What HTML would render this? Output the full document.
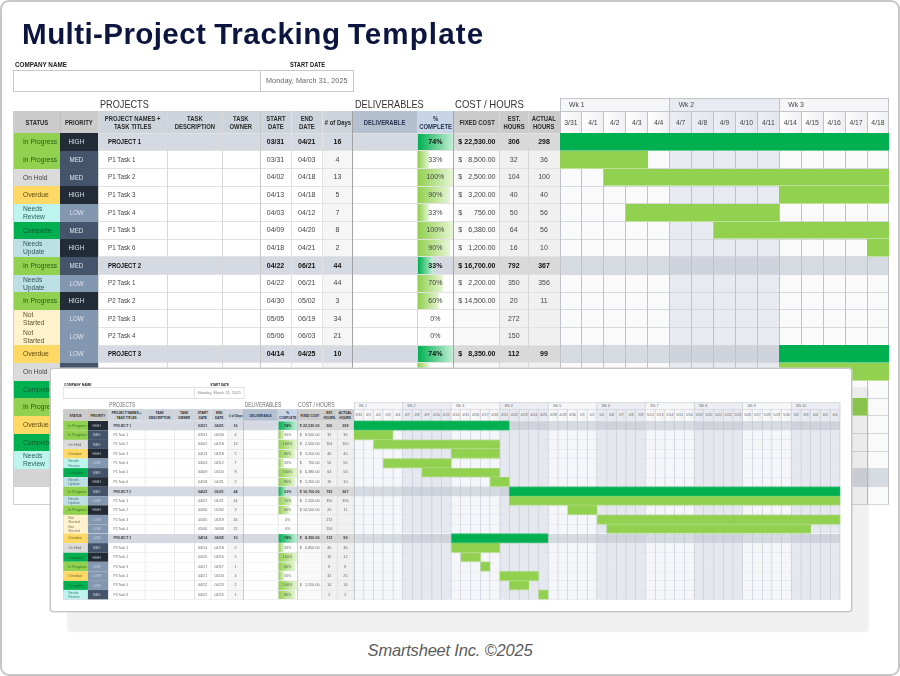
<!DOCTYPE html>
<html><head><meta charset="utf-8"><title>Multi-Project Tracking Template</title>
<style>
*{margin:0;padding:0;}
html,body{width:900px;height:676px;overflow:hidden;background:#fff;}
body{position:relative;font-family:"Liberation Sans", sans-serif;}
.frame{position:absolute;left:0;top:0;width:900px;height:676px;box-sizing:border-box;border:2px solid #c7c7c7;border-radius:9px;overflow:hidden;}
.title{position:absolute;left:21.5px;top:14.3px;font-weight:bold;font-size:29.6px;line-height:40px;color:#0b153f;white-space:nowrap;letter-spacing:0.14px;}
.sheet{position:absolute;left:0;top:0;}
.sheet div{position:absolute;box-sizing:border-box;overflow:hidden;white-space:nowrap;font-size:7px;color:#444;}
.title span{position:absolute;top:0;}
.sheet .lbl{font-weight:bold;font-size:6.3px;line-height:8px;color:#222;overflow:visible;}
.sheet .date{font-size:7.2px;line-height:21px;color:#666;letter-spacing:0.12px;}
.sheet .sec{font-size:11.8px;line-height:14px;color:#333;overflow:visible;transform:scaleX(0.76);transform-origin:0 0;}
.sheet .hd{display:flex;align-items:center;justify-content:center;text-align:center;font-weight:bold;font-size:6.7px;line-height:8.4px;color:#2a2a2a;padding-top:2px;}
.sheet .hd span{transform:scaleX(0.88);}
.sheet .st{display:flex;align-items:center;padding-left:10px;padding-top:0.5px;font-size:6.7px;line-height:8px;}
.sheet .pr{display:flex;align-items:center;justify-content:center;font-size:6.7px;padding-right:4.5px;padding-bottom:0.8px;}
.sheet .pr span{transform:scaleX(0.93);}
.sheet .nm{display:flex;align-items:center;padding-left:9.5px;font-size:6.6px;padding-bottom:1px;}
.sheet .nm span{transform:scaleX(0.95);transform-origin:0 50%;}
.sheet .nm.b span{transform:scaleX(0.9);}
.sheet .ct{display:flex;align-items:center;justify-content:center;font-size:7px;padding-bottom:1px;}
.sheet .cs{display:flex;align-items:center;font-size:7px;padding-bottom:1px;}
.sheet .cs .d{position:absolute;left:4.5px;}
.sheet .cs .v{position:absolute;right:4px;}
.sheet .wk{font-size:6.8px;line-height:13px;padding-left:9px;color:#444;}
.sheet .dy{display:flex;align-items:center;justify-content:center;font-size:6.8px;color:#444;}
.sheet span{display:block;}
.sheet .bar{border-bottom:1px solid rgba(255,255,255,0.4);}
.front{position:absolute;left:50px;top:368px;width:801.5px;height:244px;box-sizing:border-box;border:1px solid #c6c6c6;border-radius:3.5px;background:#fff;box-shadow:0 0 0 0.6px #cfcfcf,17px 19.5px 1.5px rgba(0,0,0,0.058);overflow:hidden;}
.mini{position:absolute;transform-origin:0 0;}
.mini .sec{color:#6c6c6c;}
.mini .nm,.mini .ct,.mini .cs,.mini .dy,.mini .wk,.mini .date,.mini .st span,.mini .pr span{opacity:.82;}
.footer{position:absolute;left:0;width:900px;top:639.2px;text-align:center;font-style:italic;font-size:16.5px;line-height:22px;color:#5c5c5c;letter-spacing:-0.2px;}
.backclip,.front,.title{filter:blur(0.3px);}
.backclip{position:absolute;left:0;top:0;width:889.4px;height:520px;overflow:hidden;}
</style></head><body>
<div class="backclip"><div class="sheet">
<div class="lbl" style="left:15.00px;top:60.60px;width:105.00px;height:8.00px;">COMPANY NAME</div>
<div class="lbl" style="left:289.50px;top:60.60px;width:90.50px;height:8.00px;transform:scaleX(0.9);transform-origin:0 0;">START DATE</div>
<div style="left:13.00px;top:70.00px;width:341.00px;height:22.00px;border:1px solid #c9c9c9;background:#fff;box-sizing:border-box;"></div>
<div style="left:260.00px;top:70.00px;width:1.00px;height:22.00px;background:#c9c9c9;"></div>
<div class="date" style="left:266.00px;top:69.60px;width:87.00px;height:21.00px;">Monday, March 31, 2025</div>
<div class="sec" style="left:99.50px;top:97.30px;width:100.50px;height:13.00px;transform:scaleX(0.775);">PROJECTS</div>
<div class="sec" style="left:355.00px;top:97.30px;width:105.00px;height:13.00px;transform:scaleX(0.775);">DELIVERABLES</div>
<div class="sec" style="left:455.00px;top:97.30px;width:105.00px;height:13.00px;transform:scaleX(0.81);">COST / HOURS</div>
<div class="hd" style="left:13.00px;top:111.00px;width:47.00px;height:22.30px;background:#cbcbcb;"><span>STATUS</span></div>
<div class="hd" style="left:60.00px;top:111.00px;width:38.00px;height:22.30px;background:#cbcbcb;"><span>PRIORITY</span></div>
<div class="hd" style="left:98.00px;top:111.00px;width:69.50px;height:22.30px;background:#ced4dc;"><span>PROJECT NAMES +<br>TASK TITLES</span></div>
<div class="hd" style="left:167.50px;top:111.00px;width:55.00px;height:22.30px;background:#ced4dc;"><span>TASK<br>DESCRIPTION</span></div>
<div class="hd" style="left:222.50px;top:111.00px;width:37.50px;height:22.30px;background:#ced4dc;"><span>TASK<br>OWNER</span></div>
<div class="hd" style="left:260.00px;top:111.00px;width:31.00px;height:22.30px;background:#ced4dc;"><span>START<br>DATE</span></div>
<div class="hd" style="left:291.00px;top:111.00px;width:31.50px;height:22.30px;background:#ced4dc;"><span>END<br>DATE</span></div>
<div class="hd" style="left:322.50px;top:111.00px;width:30.00px;height:22.30px;background:#ced4dc;"><span># of Days</span></div>
<div class="hd" style="left:352.50px;top:111.00px;width:64.50px;height:22.30px;background:#b4bfd0;color:#25344f;"><span>DELIVERABLE</span></div>
<div class="hd" style="left:417.00px;top:111.00px;width:36.75px;height:22.30px;background:#c8d5e7;color:#25344f;"><span>%<br>COMPLETE</span></div>
<div class="hd" style="left:453.75px;top:111.00px;width:45.75px;height:22.30px;background:#cbcbcb;"><span>FIXED COST</span></div>
<div class="hd" style="left:499.50px;top:111.00px;width:28.50px;height:22.30px;background:#cbcbcb;"><span>EST.<br>HOURS</span></div>
<div class="hd" style="left:528.00px;top:111.00px;width:32.00px;height:22.30px;background:#cbcbcb;"><span>ACTUAL<br>HOURS</span></div>
<div class="st" style="left:13.00px;top:133.30px;width:47.00px;height:17.67px;background:#92d050;color:#1f5f12;"><span>In Progress</span></div>
<div class="pr" style="left:60.00px;top:133.30px;width:38.00px;height:17.67px;background:#222b36;color:#dfe3ea;"><span>HIGH</span></div>
<div style="left:98.00px;top:133.30px;width:319.00px;height:17.67px;background:#d5dae2;"></div>
<div class="nm b" style="left:98.00px;top:133.30px;width:69.50px;height:17.67px;font-weight:bold;color:#111;"><span>PROJECT 1</span></div>
<div class="ct" style="left:260.00px;top:133.30px;width:31.00px;height:17.67px;font-weight:bold;color:#111;"><span>03/31</span></div>
<div class="ct" style="left:291.00px;top:133.30px;width:31.50px;height:17.67px;font-weight:bold;color:#111;"><span>04/21</span></div>
<div class="ct" style="left:322.50px;top:133.30px;width:30.00px;height:17.67px;font-weight:bold;color:#111;"><span>16</span></div>
<div style="left:417.00px;top:133.30px;width:36.75px;height:17.67px;background:#d5dae2;"></div>
<div style="left:417.50px;top:133.80px;width:35.75px;height:16.67px;background:linear-gradient(90deg,#00b050,#c4eed6);"></div>
<div class="ct" style="left:417.00px;top:133.30px;width:36.75px;height:17.67px;font-weight:bold;color:#111;"><span>74%</span></div>
<div style="left:453.75px;top:133.30px;width:45.75px;height:17.67px;background:#d9d9d9;"></div>
<div style="left:499.50px;top:133.30px;width:60.50px;height:17.67px;background:#d9d9d9;"></div>
<div class="cs" style="left:453.75px;top:133.30px;width:45.75px;height:17.67px;font-weight:bold;color:#111;"><span class="d">$</span><span class="v">22,530.00</span></div>
<div class="ct" style="left:499.50px;top:133.30px;width:28.50px;height:17.67px;font-weight:bold;color:#111;"><span>306</span></div>
<div class="ct" style="left:528.00px;top:133.30px;width:32.00px;height:17.67px;font-weight:bold;color:#111;"><span>298</span></div>
<div style="left:560.00px;top:133.30px;width:109.65px;height:17.67px;background:#d6dae1;"></div>
<div style="left:669.65px;top:133.30px;width:109.65px;height:17.67px;background:#cfd3dc;"></div>
<div style="left:779.30px;top:133.30px;width:109.65px;height:17.67px;background:#d6dae1;"></div>
<div class="st" style="left:13.00px;top:150.97px;width:47.00px;height:17.67px;background:#92d050;color:#1f5f12;"><span>In Progress</span></div>
<div class="pr" style="left:60.00px;top:150.97px;width:38.00px;height:17.67px;background:#44546a;color:#e4e8ef;"><span>MED</span></div>
<div style="left:98.00px;top:150.97px;width:319.00px;height:17.67px;background:#fff;"></div>
<div style="left:322.50px;top:150.97px;width:30.00px;height:17.67px;background:#f6f6f6;"></div>
<div class="nm" style="left:98.00px;top:150.97px;width:69.50px;height:17.67px;"><span>P1 Task 1</span></div>
<div class="ct" style="left:260.00px;top:150.97px;width:31.00px;height:17.67px;"><span>03/31</span></div>
<div class="ct" style="left:291.00px;top:150.97px;width:31.50px;height:17.67px;"><span>04/03</span></div>
<div class="ct" style="left:322.50px;top:150.97px;width:30.00px;height:17.67px;"><span>4</span></div>
<div style="left:417.00px;top:150.97px;width:36.75px;height:17.67px;background:#fff;"></div>
<div style="left:417.50px;top:151.47px;width:11.80px;height:16.67px;background:linear-gradient(90deg,#92d050,#e6f6d6);"></div>
<div class="ct" style="left:417.00px;top:150.97px;width:36.75px;height:17.67px;"><span>33%</span></div>
<div style="left:453.75px;top:150.97px;width:45.75px;height:17.67px;background:#f9f9f9;"></div>
<div style="left:499.50px;top:150.97px;width:60.50px;height:17.67px;background:#f0f0f0;"></div>
<div class="cs" style="left:453.75px;top:150.97px;width:45.75px;height:17.67px;"><span class="d">$</span><span class="v">8,500.00</span></div>
<div class="ct" style="left:499.50px;top:150.97px;width:28.50px;height:17.67px;"><span>32</span></div>
<div class="ct" style="left:528.00px;top:150.97px;width:32.00px;height:17.67px;"><span>36</span></div>
<div style="left:560.00px;top:150.97px;width:109.65px;height:17.67px;background:#fafafa;"></div>
<div style="left:669.65px;top:150.97px;width:109.65px;height:17.67px;background:#e8eaf2;"></div>
<div style="left:779.30px;top:150.97px;width:109.65px;height:17.67px;background:#fafafa;"></div>
<div class="st" style="left:13.00px;top:168.63px;width:47.00px;height:17.67px;background:#dbdbdb;color:#444;"><span>On Hold</span></div>
<div class="pr" style="left:60.00px;top:168.63px;width:38.00px;height:17.67px;background:#44546a;color:#e4e8ef;"><span>MED</span></div>
<div style="left:98.00px;top:168.63px;width:319.00px;height:17.67px;background:#fff;"></div>
<div style="left:322.50px;top:168.63px;width:30.00px;height:17.67px;background:#f6f6f6;"></div>
<div class="nm" style="left:98.00px;top:168.63px;width:69.50px;height:17.67px;"><span>P1 Task 2</span></div>
<div class="ct" style="left:260.00px;top:168.63px;width:31.00px;height:17.67px;"><span>04/02</span></div>
<div class="ct" style="left:291.00px;top:168.63px;width:31.50px;height:17.67px;"><span>04/18</span></div>
<div class="ct" style="left:322.50px;top:168.63px;width:30.00px;height:17.67px;"><span>13</span></div>
<div style="left:417.00px;top:168.63px;width:36.75px;height:17.67px;background:#fff;"></div>
<div style="left:417.50px;top:169.13px;width:35.75px;height:16.67px;background:linear-gradient(90deg,#92d050,#e6f6d6);"></div>
<div class="ct" style="left:417.00px;top:168.63px;width:36.75px;height:17.67px;"><span>100%</span></div>
<div style="left:453.75px;top:168.63px;width:45.75px;height:17.67px;background:#f9f9f9;"></div>
<div style="left:499.50px;top:168.63px;width:60.50px;height:17.67px;background:#f0f0f0;"></div>
<div class="cs" style="left:453.75px;top:168.63px;width:45.75px;height:17.67px;"><span class="d">$</span><span class="v">2,500.00</span></div>
<div class="ct" style="left:499.50px;top:168.63px;width:28.50px;height:17.67px;"><span>104</span></div>
<div class="ct" style="left:528.00px;top:168.63px;width:32.00px;height:17.67px;"><span>100</span></div>
<div style="left:560.00px;top:168.63px;width:109.65px;height:17.67px;background:#fafafa;"></div>
<div style="left:669.65px;top:168.63px;width:109.65px;height:17.67px;background:#e8eaf2;"></div>
<div style="left:779.30px;top:168.63px;width:109.65px;height:17.67px;background:#fafafa;"></div>
<div class="st" style="left:13.00px;top:186.30px;width:47.00px;height:17.67px;background:#ffd966;color:#5a4a10;"><span>Overdue</span></div>
<div class="pr" style="left:60.00px;top:186.30px;width:38.00px;height:17.67px;background:#222b36;color:#dfe3ea;"><span>HIGH</span></div>
<div style="left:98.00px;top:186.30px;width:319.00px;height:17.67px;background:#fff;"></div>
<div style="left:322.50px;top:186.30px;width:30.00px;height:17.67px;background:#f6f6f6;"></div>
<div class="nm" style="left:98.00px;top:186.30px;width:69.50px;height:17.67px;"><span>P1 Task 3</span></div>
<div class="ct" style="left:260.00px;top:186.30px;width:31.00px;height:17.67px;"><span>04/13</span></div>
<div class="ct" style="left:291.00px;top:186.30px;width:31.50px;height:17.67px;"><span>04/18</span></div>
<div class="ct" style="left:322.50px;top:186.30px;width:30.00px;height:17.67px;"><span>5</span></div>
<div style="left:417.00px;top:186.30px;width:36.75px;height:17.67px;background:#fff;"></div>
<div style="left:417.50px;top:186.80px;width:32.18px;height:16.67px;background:linear-gradient(90deg,#92d050,#e6f6d6);"></div>
<div class="ct" style="left:417.00px;top:186.30px;width:36.75px;height:17.67px;"><span>90%</span></div>
<div style="left:453.75px;top:186.30px;width:45.75px;height:17.67px;background:#f9f9f9;"></div>
<div style="left:499.50px;top:186.30px;width:60.50px;height:17.67px;background:#f0f0f0;"></div>
<div class="cs" style="left:453.75px;top:186.30px;width:45.75px;height:17.67px;"><span class="d">$</span><span class="v">3,200.00</span></div>
<div class="ct" style="left:499.50px;top:186.30px;width:28.50px;height:17.67px;"><span>40</span></div>
<div class="ct" style="left:528.00px;top:186.30px;width:32.00px;height:17.67px;"><span>40</span></div>
<div style="left:560.00px;top:186.30px;width:109.65px;height:17.67px;background:#fafafa;"></div>
<div style="left:669.65px;top:186.30px;width:109.65px;height:17.67px;background:#e8eaf2;"></div>
<div style="left:779.30px;top:186.30px;width:109.65px;height:17.67px;background:#fafafa;"></div>
<div class="st" style="left:13.00px;top:203.97px;width:47.00px;height:17.67px;background:#bdf5ee;color:#2c5f5b;"><span>Needs<br>Review</span></div>
<div class="pr" style="left:60.00px;top:203.97px;width:38.00px;height:17.67px;background:#8497b0;color:#dce3ee;"><span>LOW</span></div>
<div style="left:98.00px;top:203.97px;width:319.00px;height:17.67px;background:#fff;"></div>
<div style="left:322.50px;top:203.97px;width:30.00px;height:17.67px;background:#f6f6f6;"></div>
<div class="nm" style="left:98.00px;top:203.97px;width:69.50px;height:17.67px;"><span>P1 Task 4</span></div>
<div class="ct" style="left:260.00px;top:203.97px;width:31.00px;height:17.67px;"><span>04/03</span></div>
<div class="ct" style="left:291.00px;top:203.97px;width:31.50px;height:17.67px;"><span>04/12</span></div>
<div class="ct" style="left:322.50px;top:203.97px;width:30.00px;height:17.67px;"><span>7</span></div>
<div style="left:417.00px;top:203.97px;width:36.75px;height:17.67px;background:#fff;"></div>
<div style="left:417.50px;top:204.47px;width:11.80px;height:16.67px;background:linear-gradient(90deg,#92d050,#e6f6d6);"></div>
<div class="ct" style="left:417.00px;top:203.97px;width:36.75px;height:17.67px;"><span>33%</span></div>
<div style="left:453.75px;top:203.97px;width:45.75px;height:17.67px;background:#f9f9f9;"></div>
<div style="left:499.50px;top:203.97px;width:60.50px;height:17.67px;background:#f0f0f0;"></div>
<div class="cs" style="left:453.75px;top:203.97px;width:45.75px;height:17.67px;"><span class="d">$</span><span class="v">750.00</span></div>
<div class="ct" style="left:499.50px;top:203.97px;width:28.50px;height:17.67px;"><span>50</span></div>
<div class="ct" style="left:528.00px;top:203.97px;width:32.00px;height:17.67px;"><span>56</span></div>
<div style="left:560.00px;top:203.97px;width:109.65px;height:17.67px;background:#fafafa;"></div>
<div style="left:669.65px;top:203.97px;width:109.65px;height:17.67px;background:#e8eaf2;"></div>
<div style="left:779.30px;top:203.97px;width:109.65px;height:17.67px;background:#fafafa;"></div>
<div class="st" style="left:13.00px;top:221.64px;width:47.00px;height:17.67px;background:#00b050;color:#0b5a2b;"><span>Complete</span></div>
<div class="pr" style="left:60.00px;top:221.64px;width:38.00px;height:17.67px;background:#44546a;color:#e4e8ef;"><span>MED</span></div>
<div style="left:98.00px;top:221.64px;width:319.00px;height:17.67px;background:#fff;"></div>
<div style="left:322.50px;top:221.64px;width:30.00px;height:17.67px;background:#f6f6f6;"></div>
<div class="nm" style="left:98.00px;top:221.64px;width:69.50px;height:17.67px;"><span>P1 Task 5</span></div>
<div class="ct" style="left:260.00px;top:221.64px;width:31.00px;height:17.67px;"><span>04/09</span></div>
<div class="ct" style="left:291.00px;top:221.64px;width:31.50px;height:17.67px;"><span>04/20</span></div>
<div class="ct" style="left:322.50px;top:221.64px;width:30.00px;height:17.67px;"><span>8</span></div>
<div style="left:417.00px;top:221.64px;width:36.75px;height:17.67px;background:#fff;"></div>
<div style="left:417.50px;top:222.14px;width:35.75px;height:16.67px;background:linear-gradient(90deg,#92d050,#e6f6d6);"></div>
<div class="ct" style="left:417.00px;top:221.64px;width:36.75px;height:17.67px;"><span>100%</span></div>
<div style="left:453.75px;top:221.64px;width:45.75px;height:17.67px;background:#f9f9f9;"></div>
<div style="left:499.50px;top:221.64px;width:60.50px;height:17.67px;background:#f0f0f0;"></div>
<div class="cs" style="left:453.75px;top:221.64px;width:45.75px;height:17.67px;"><span class="d">$</span><span class="v">6,380.00</span></div>
<div class="ct" style="left:499.50px;top:221.64px;width:28.50px;height:17.67px;"><span>64</span></div>
<div class="ct" style="left:528.00px;top:221.64px;width:32.00px;height:17.67px;"><span>56</span></div>
<div style="left:560.00px;top:221.64px;width:109.65px;height:17.67px;background:#fafafa;"></div>
<div style="left:669.65px;top:221.64px;width:109.65px;height:17.67px;background:#e8eaf2;"></div>
<div style="left:779.30px;top:221.64px;width:109.65px;height:17.67px;background:#fafafa;"></div>
<div class="st" style="left:13.00px;top:239.30px;width:47.00px;height:17.67px;background:#bde0e4;color:#35585c;"><span>Needs<br>Update</span></div>
<div class="pr" style="left:60.00px;top:239.30px;width:38.00px;height:17.67px;background:#222b36;color:#dfe3ea;"><span>HIGH</span></div>
<div style="left:98.00px;top:239.30px;width:319.00px;height:17.67px;background:#fff;"></div>
<div style="left:322.50px;top:239.30px;width:30.00px;height:17.67px;background:#f6f6f6;"></div>
<div class="nm" style="left:98.00px;top:239.30px;width:69.50px;height:17.67px;"><span>P1 Task 6</span></div>
<div class="ct" style="left:260.00px;top:239.30px;width:31.00px;height:17.67px;"><span>04/18</span></div>
<div class="ct" style="left:291.00px;top:239.30px;width:31.50px;height:17.67px;"><span>04/21</span></div>
<div class="ct" style="left:322.50px;top:239.30px;width:30.00px;height:17.67px;"><span>2</span></div>
<div style="left:417.00px;top:239.30px;width:36.75px;height:17.67px;background:#fff;"></div>
<div style="left:417.50px;top:239.80px;width:32.18px;height:16.67px;background:linear-gradient(90deg,#92d050,#e6f6d6);"></div>
<div class="ct" style="left:417.00px;top:239.30px;width:36.75px;height:17.67px;"><span>90%</span></div>
<div style="left:453.75px;top:239.30px;width:45.75px;height:17.67px;background:#f9f9f9;"></div>
<div style="left:499.50px;top:239.30px;width:60.50px;height:17.67px;background:#f0f0f0;"></div>
<div class="cs" style="left:453.75px;top:239.30px;width:45.75px;height:17.67px;"><span class="d">$</span><span class="v">1,200.00</span></div>
<div class="ct" style="left:499.50px;top:239.30px;width:28.50px;height:17.67px;"><span>16</span></div>
<div class="ct" style="left:528.00px;top:239.30px;width:32.00px;height:17.67px;"><span>10</span></div>
<div style="left:560.00px;top:239.30px;width:109.65px;height:17.67px;background:#fafafa;"></div>
<div style="left:669.65px;top:239.30px;width:109.65px;height:17.67px;background:#e8eaf2;"></div>
<div style="left:779.30px;top:239.30px;width:109.65px;height:17.67px;background:#fafafa;"></div>
<div class="st" style="left:13.00px;top:256.97px;width:47.00px;height:17.67px;background:#92d050;color:#1f5f12;"><span>In Progress</span></div>
<div class="pr" style="left:60.00px;top:256.97px;width:38.00px;height:17.67px;background:#44546a;color:#e4e8ef;"><span>MED</span></div>
<div style="left:98.00px;top:256.97px;width:319.00px;height:17.67px;background:#d5dae2;"></div>
<div class="nm b" style="left:98.00px;top:256.97px;width:69.50px;height:17.67px;font-weight:bold;color:#111;"><span>PROJECT 2</span></div>
<div class="ct" style="left:260.00px;top:256.97px;width:31.00px;height:17.67px;font-weight:bold;color:#111;"><span>04/22</span></div>
<div class="ct" style="left:291.00px;top:256.97px;width:31.50px;height:17.67px;font-weight:bold;color:#111;"><span>06/21</span></div>
<div class="ct" style="left:322.50px;top:256.97px;width:30.00px;height:17.67px;font-weight:bold;color:#111;"><span>44</span></div>
<div style="left:417.00px;top:256.97px;width:36.75px;height:17.67px;background:#d5dae2;"></div>
<div style="left:417.50px;top:257.47px;width:15.94px;height:16.67px;background:linear-gradient(90deg,#00b050,#c4eed6);"></div>
<div class="ct" style="left:417.00px;top:256.97px;width:36.75px;height:17.67px;font-weight:bold;color:#111;"><span>33%</span></div>
<div style="left:453.75px;top:256.97px;width:45.75px;height:17.67px;background:#d9d9d9;"></div>
<div style="left:499.50px;top:256.97px;width:60.50px;height:17.67px;background:#d9d9d9;"></div>
<div class="cs" style="left:453.75px;top:256.97px;width:45.75px;height:17.67px;font-weight:bold;color:#111;"><span class="d">$</span><span class="v">16,700.00</span></div>
<div class="ct" style="left:499.50px;top:256.97px;width:28.50px;height:17.67px;font-weight:bold;color:#111;"><span>792</span></div>
<div class="ct" style="left:528.00px;top:256.97px;width:32.00px;height:17.67px;font-weight:bold;color:#111;"><span>367</span></div>
<div style="left:560.00px;top:256.97px;width:109.65px;height:17.67px;background:#d6dae1;"></div>
<div style="left:669.65px;top:256.97px;width:109.65px;height:17.67px;background:#cfd3dc;"></div>
<div style="left:779.30px;top:256.97px;width:109.65px;height:17.67px;background:#d6dae1;"></div>
<div class="st" style="left:13.00px;top:274.64px;width:47.00px;height:17.67px;background:#bde0e4;color:#35585c;"><span>Needs<br>Update</span></div>
<div class="pr" style="left:60.00px;top:274.64px;width:38.00px;height:17.67px;background:#8497b0;color:#dce3ee;"><span>LOW</span></div>
<div style="left:98.00px;top:274.64px;width:319.00px;height:17.67px;background:#fff;"></div>
<div style="left:322.50px;top:274.64px;width:30.00px;height:17.67px;background:#f6f6f6;"></div>
<div class="nm" style="left:98.00px;top:274.64px;width:69.50px;height:17.67px;"><span>P2 Task 1</span></div>
<div class="ct" style="left:260.00px;top:274.64px;width:31.00px;height:17.67px;"><span>04/22</span></div>
<div class="ct" style="left:291.00px;top:274.64px;width:31.50px;height:17.67px;"><span>06/21</span></div>
<div class="ct" style="left:322.50px;top:274.64px;width:30.00px;height:17.67px;"><span>44</span></div>
<div style="left:417.00px;top:274.64px;width:36.75px;height:17.67px;background:#fff;"></div>
<div style="left:417.50px;top:275.14px;width:25.02px;height:16.67px;background:linear-gradient(90deg,#92d050,#e6f6d6);"></div>
<div class="ct" style="left:417.00px;top:274.64px;width:36.75px;height:17.67px;"><span>70%</span></div>
<div style="left:453.75px;top:274.64px;width:45.75px;height:17.67px;background:#f9f9f9;"></div>
<div style="left:499.50px;top:274.64px;width:60.50px;height:17.67px;background:#f0f0f0;"></div>
<div class="cs" style="left:453.75px;top:274.64px;width:45.75px;height:17.67px;"><span class="d">$</span><span class="v">2,200.00</span></div>
<div class="ct" style="left:499.50px;top:274.64px;width:28.50px;height:17.67px;"><span>350</span></div>
<div class="ct" style="left:528.00px;top:274.64px;width:32.00px;height:17.67px;"><span>356</span></div>
<div style="left:560.00px;top:274.64px;width:109.65px;height:17.67px;background:#fafafa;"></div>
<div style="left:669.65px;top:274.64px;width:109.65px;height:17.67px;background:#e8eaf2;"></div>
<div style="left:779.30px;top:274.64px;width:109.65px;height:17.67px;background:#fafafa;"></div>
<div class="st" style="left:13.00px;top:292.30px;width:47.00px;height:17.67px;background:#92d050;color:#1f5f12;"><span>In Progress</span></div>
<div class="pr" style="left:60.00px;top:292.30px;width:38.00px;height:17.67px;background:#222b36;color:#dfe3ea;"><span>HIGH</span></div>
<div style="left:98.00px;top:292.30px;width:319.00px;height:17.67px;background:#fff;"></div>
<div style="left:322.50px;top:292.30px;width:30.00px;height:17.67px;background:#f6f6f6;"></div>
<div class="nm" style="left:98.00px;top:292.30px;width:69.50px;height:17.67px;"><span>P2 Task 2</span></div>
<div class="ct" style="left:260.00px;top:292.30px;width:31.00px;height:17.67px;"><span>04/30</span></div>
<div class="ct" style="left:291.00px;top:292.30px;width:31.50px;height:17.67px;"><span>05/02</span></div>
<div class="ct" style="left:322.50px;top:292.30px;width:30.00px;height:17.67px;"><span>3</span></div>
<div style="left:417.00px;top:292.30px;width:36.75px;height:17.67px;background:#fff;"></div>
<div style="left:417.50px;top:292.80px;width:21.45px;height:16.67px;background:linear-gradient(90deg,#92d050,#e6f6d6);"></div>
<div class="ct" style="left:417.00px;top:292.30px;width:36.75px;height:17.67px;"><span>60%</span></div>
<div style="left:453.75px;top:292.30px;width:45.75px;height:17.67px;background:#f9f9f9;"></div>
<div style="left:499.50px;top:292.30px;width:60.50px;height:17.67px;background:#f0f0f0;"></div>
<div class="cs" style="left:453.75px;top:292.30px;width:45.75px;height:17.67px;"><span class="d">$</span><span class="v">14,500.00</span></div>
<div class="ct" style="left:499.50px;top:292.30px;width:28.50px;height:17.67px;"><span>20</span></div>
<div class="ct" style="left:528.00px;top:292.30px;width:32.00px;height:17.67px;"><span>11</span></div>
<div style="left:560.00px;top:292.30px;width:109.65px;height:17.67px;background:#fafafa;"></div>
<div style="left:669.65px;top:292.30px;width:109.65px;height:17.67px;background:#e8eaf2;"></div>
<div style="left:779.30px;top:292.30px;width:109.65px;height:17.67px;background:#fafafa;"></div>
<div class="st" style="left:13.00px;top:309.97px;width:47.00px;height:17.67px;background:#fff2cc;color:#5d5536;"><span>Not<br>Started</span></div>
<div class="pr" style="left:60.00px;top:309.97px;width:38.00px;height:17.67px;background:#8497b0;color:#dce3ee;"><span>LOW</span></div>
<div style="left:98.00px;top:309.97px;width:319.00px;height:17.67px;background:#fff;"></div>
<div style="left:322.50px;top:309.97px;width:30.00px;height:17.67px;background:#f6f6f6;"></div>
<div class="nm" style="left:98.00px;top:309.97px;width:69.50px;height:17.67px;"><span>P2 Task 3</span></div>
<div class="ct" style="left:260.00px;top:309.97px;width:31.00px;height:17.67px;"><span>05/05</span></div>
<div class="ct" style="left:291.00px;top:309.97px;width:31.50px;height:17.67px;"><span>06/19</span></div>
<div class="ct" style="left:322.50px;top:309.97px;width:30.00px;height:17.67px;"><span>34</span></div>
<div style="left:417.00px;top:309.97px;width:36.75px;height:17.67px;background:#fff;"></div>
<div class="ct" style="left:417.00px;top:309.97px;width:36.75px;height:17.67px;"><span>0%</span></div>
<div style="left:453.75px;top:309.97px;width:45.75px;height:17.67px;background:#f9f9f9;"></div>
<div style="left:499.50px;top:309.97px;width:60.50px;height:17.67px;background:#f0f0f0;"></div>
<div class="ct" style="left:499.50px;top:309.97px;width:28.50px;height:17.67px;"><span>272</span></div>
<div class="ct" style="left:528.00px;top:309.97px;width:32.00px;height:17.67px;"><span></span></div>
<div style="left:560.00px;top:309.97px;width:109.65px;height:17.67px;background:#fafafa;"></div>
<div style="left:669.65px;top:309.97px;width:109.65px;height:17.67px;background:#e8eaf2;"></div>
<div style="left:779.30px;top:309.97px;width:109.65px;height:17.67px;background:#fafafa;"></div>
<div class="st" style="left:13.00px;top:327.64px;width:47.00px;height:17.67px;background:#fff2cc;color:#5d5536;"><span>Not<br>Started</span></div>
<div class="pr" style="left:60.00px;top:327.64px;width:38.00px;height:17.67px;background:#8497b0;color:#dce3ee;"><span>LOW</span></div>
<div style="left:98.00px;top:327.64px;width:319.00px;height:17.67px;background:#fff;"></div>
<div style="left:322.50px;top:327.64px;width:30.00px;height:17.67px;background:#f6f6f6;"></div>
<div class="nm" style="left:98.00px;top:327.64px;width:69.50px;height:17.67px;"><span>P2 Task 4</span></div>
<div class="ct" style="left:260.00px;top:327.64px;width:31.00px;height:17.67px;"><span>05/06</span></div>
<div class="ct" style="left:291.00px;top:327.64px;width:31.50px;height:17.67px;"><span>06/03</span></div>
<div class="ct" style="left:322.50px;top:327.64px;width:30.00px;height:17.67px;"><span>21</span></div>
<div style="left:417.00px;top:327.64px;width:36.75px;height:17.67px;background:#fff;"></div>
<div class="ct" style="left:417.00px;top:327.64px;width:36.75px;height:17.67px;"><span>0%</span></div>
<div style="left:453.75px;top:327.64px;width:45.75px;height:17.67px;background:#f9f9f9;"></div>
<div style="left:499.50px;top:327.64px;width:60.50px;height:17.67px;background:#f0f0f0;"></div>
<div class="ct" style="left:499.50px;top:327.64px;width:28.50px;height:17.67px;"><span>150</span></div>
<div class="ct" style="left:528.00px;top:327.64px;width:32.00px;height:17.67px;"><span></span></div>
<div style="left:560.00px;top:327.64px;width:109.65px;height:17.67px;background:#fafafa;"></div>
<div style="left:669.65px;top:327.64px;width:109.65px;height:17.67px;background:#e8eaf2;"></div>
<div style="left:779.30px;top:327.64px;width:109.65px;height:17.67px;background:#fafafa;"></div>
<div class="st" style="left:13.00px;top:345.30px;width:47.00px;height:17.67px;background:#ffd966;color:#5a4a10;"><span>Overdue</span></div>
<div class="pr" style="left:60.00px;top:345.30px;width:38.00px;height:17.67px;background:#8497b0;color:#dce3ee;"><span>LOW</span></div>
<div style="left:98.00px;top:345.30px;width:319.00px;height:17.67px;background:#d5dae2;"></div>
<div class="nm b" style="left:98.00px;top:345.30px;width:69.50px;height:17.67px;font-weight:bold;color:#111;"><span>PROJECT 3</span></div>
<div class="ct" style="left:260.00px;top:345.30px;width:31.00px;height:17.67px;font-weight:bold;color:#111;"><span>04/14</span></div>
<div class="ct" style="left:291.00px;top:345.30px;width:31.50px;height:17.67px;font-weight:bold;color:#111;"><span>04/25</span></div>
<div class="ct" style="left:322.50px;top:345.30px;width:30.00px;height:17.67px;font-weight:bold;color:#111;"><span>10</span></div>
<div style="left:417.00px;top:345.30px;width:36.75px;height:17.67px;background:#d5dae2;"></div>
<div style="left:417.50px;top:345.80px;width:35.75px;height:16.67px;background:linear-gradient(90deg,#00b050,#c4eed6);"></div>
<div class="ct" style="left:417.00px;top:345.30px;width:36.75px;height:17.67px;font-weight:bold;color:#111;"><span>74%</span></div>
<div style="left:453.75px;top:345.30px;width:45.75px;height:17.67px;background:#d9d9d9;"></div>
<div style="left:499.50px;top:345.30px;width:60.50px;height:17.67px;background:#d9d9d9;"></div>
<div class="cs" style="left:453.75px;top:345.30px;width:45.75px;height:17.67px;font-weight:bold;color:#111;"><span class="d">$</span><span class="v">8,350.00</span></div>
<div class="ct" style="left:499.50px;top:345.30px;width:28.50px;height:17.67px;font-weight:bold;color:#111;"><span>112</span></div>
<div class="ct" style="left:528.00px;top:345.30px;width:32.00px;height:17.67px;font-weight:bold;color:#111;"><span>99</span></div>
<div style="left:560.00px;top:345.30px;width:109.65px;height:17.67px;background:#d6dae1;"></div>
<div style="left:669.65px;top:345.30px;width:109.65px;height:17.67px;background:#cfd3dc;"></div>
<div style="left:779.30px;top:345.30px;width:109.65px;height:17.67px;background:#d6dae1;"></div>
<div class="st" style="left:13.00px;top:362.97px;width:47.00px;height:17.67px;background:#dbdbdb;color:#444;"><span>On Hold</span></div>
<div class="pr" style="left:60.00px;top:362.97px;width:38.00px;height:17.67px;background:#44546a;color:#e4e8ef;"><span>MED</span></div>
<div style="left:98.00px;top:362.97px;width:319.00px;height:17.67px;background:#fff;"></div>
<div style="left:322.50px;top:362.97px;width:30.00px;height:17.67px;background:#f6f6f6;"></div>
<div class="nm" style="left:98.00px;top:362.97px;width:69.50px;height:17.67px;"><span>P3 Task 1</span></div>
<div class="ct" style="left:260.00px;top:362.97px;width:31.00px;height:17.67px;"><span>04/14</span></div>
<div class="ct" style="left:291.00px;top:362.97px;width:31.50px;height:17.67px;"><span>04/18</span></div>
<div class="ct" style="left:322.50px;top:362.97px;width:30.00px;height:17.67px;"><span>5</span></div>
<div style="left:417.00px;top:362.97px;width:36.75px;height:17.67px;background:#fff;"></div>
<div style="left:417.50px;top:363.47px;width:11.80px;height:16.67px;background:linear-gradient(90deg,#92d050,#e6f6d6);"></div>
<div class="ct" style="left:417.00px;top:362.97px;width:36.75px;height:17.67px;"><span>33%</span></div>
<div style="left:453.75px;top:362.97px;width:45.75px;height:17.67px;background:#f9f9f9;"></div>
<div style="left:499.50px;top:362.97px;width:60.50px;height:17.67px;background:#f0f0f0;"></div>
<div class="cs" style="left:453.75px;top:362.97px;width:45.75px;height:17.67px;"><span class="d">$</span><span class="v">6,800.00</span></div>
<div class="ct" style="left:499.50px;top:362.97px;width:28.50px;height:17.67px;"><span>40</span></div>
<div class="ct" style="left:528.00px;top:362.97px;width:32.00px;height:17.67px;"><span>36</span></div>
<div style="left:560.00px;top:362.97px;width:109.65px;height:17.67px;background:#fafafa;"></div>
<div style="left:669.65px;top:362.97px;width:109.65px;height:17.67px;background:#e8eaf2;"></div>
<div style="left:779.30px;top:362.97px;width:109.65px;height:17.67px;background:#fafafa;"></div>
<div class="st" style="left:13.00px;top:380.64px;width:47.00px;height:17.67px;background:#00b050;color:#0b5a2b;"><span>Complete</span></div>
<div class="pr" style="left:60.00px;top:380.64px;width:38.00px;height:17.67px;background:#222b36;color:#dfe3ea;"><span>HIGH</span></div>
<div style="left:98.00px;top:380.64px;width:319.00px;height:17.67px;background:#fff;"></div>
<div style="left:322.50px;top:380.64px;width:30.00px;height:17.67px;background:#f6f6f6;"></div>
<div class="nm" style="left:98.00px;top:380.64px;width:69.50px;height:17.67px;"><span>P3 Task 2</span></div>
<div class="ct" style="left:260.00px;top:380.64px;width:31.00px;height:17.67px;"><span>04/15</span></div>
<div class="ct" style="left:291.00px;top:380.64px;width:31.50px;height:17.67px;"><span>04/16</span></div>
<div class="ct" style="left:322.50px;top:380.64px;width:30.00px;height:17.67px;"><span>2</span></div>
<div style="left:417.00px;top:380.64px;width:36.75px;height:17.67px;background:#fff;"></div>
<div style="left:417.50px;top:381.14px;width:35.75px;height:16.67px;background:linear-gradient(90deg,#92d050,#e6f6d6);"></div>
<div class="ct" style="left:417.00px;top:380.64px;width:36.75px;height:17.67px;"><span>100%</span></div>
<div style="left:453.75px;top:380.64px;width:45.75px;height:17.67px;background:#f9f9f9;"></div>
<div style="left:499.50px;top:380.64px;width:60.50px;height:17.67px;background:#f0f0f0;"></div>
<div class="ct" style="left:499.50px;top:380.64px;width:28.50px;height:17.67px;"><span>16</span></div>
<div class="ct" style="left:528.00px;top:380.64px;width:32.00px;height:17.67px;"><span>12</span></div>
<div style="left:560.00px;top:380.64px;width:109.65px;height:17.67px;background:#fafafa;"></div>
<div style="left:669.65px;top:380.64px;width:109.65px;height:17.67px;background:#e8eaf2;"></div>
<div style="left:779.30px;top:380.64px;width:109.65px;height:17.67px;background:#fafafa;"></div>
<div class="st" style="left:13.00px;top:398.31px;width:47.00px;height:17.67px;background:#92d050;color:#1f5f12;"><span>In Progress</span></div>
<div class="pr" style="left:60.00px;top:398.31px;width:38.00px;height:17.67px;background:#8497b0;color:#dce3ee;"><span>LOW</span></div>
<div style="left:98.00px;top:398.31px;width:319.00px;height:17.67px;background:#fff;"></div>
<div style="left:322.50px;top:398.31px;width:30.00px;height:17.67px;background:#f6f6f6;"></div>
<div class="nm" style="left:98.00px;top:398.31px;width:69.50px;height:17.67px;"><span>P3 Task 3</span></div>
<div class="ct" style="left:260.00px;top:398.31px;width:31.00px;height:17.67px;"><span>04/17</span></div>
<div class="ct" style="left:291.00px;top:398.31px;width:31.50px;height:17.67px;"><span>04/17</span></div>
<div class="ct" style="left:322.50px;top:398.31px;width:30.00px;height:17.67px;"><span>1</span></div>
<div style="left:417.00px;top:398.31px;width:36.75px;height:17.67px;background:#fff;"></div>
<div style="left:417.50px;top:398.81px;width:32.18px;height:16.67px;background:linear-gradient(90deg,#92d050,#e6f6d6);"></div>
<div class="ct" style="left:417.00px;top:398.31px;width:36.75px;height:17.67px;"><span>90%</span></div>
<div style="left:453.75px;top:398.31px;width:45.75px;height:17.67px;background:#f9f9f9;"></div>
<div style="left:499.50px;top:398.31px;width:60.50px;height:17.67px;background:#f0f0f0;"></div>
<div class="ct" style="left:499.50px;top:398.31px;width:28.50px;height:17.67px;"><span>8</span></div>
<div class="ct" style="left:528.00px;top:398.31px;width:32.00px;height:17.67px;"><span>8</span></div>
<div style="left:560.00px;top:398.31px;width:109.65px;height:17.67px;background:#fafafa;"></div>
<div style="left:669.65px;top:398.31px;width:109.65px;height:17.67px;background:#e8eaf2;"></div>
<div style="left:779.30px;top:398.31px;width:109.65px;height:17.67px;background:#fafafa;"></div>
<div class="st" style="left:13.00px;top:415.97px;width:47.00px;height:17.67px;background:#ffd966;color:#5a4a10;"><span>Overdue</span></div>
<div class="pr" style="left:60.00px;top:415.97px;width:38.00px;height:17.67px;background:#8497b0;color:#dce3ee;"><span>LOW</span></div>
<div style="left:98.00px;top:415.97px;width:319.00px;height:17.67px;background:#fff;"></div>
<div style="left:322.50px;top:415.97px;width:30.00px;height:17.67px;background:#f6f6f6;"></div>
<div class="nm" style="left:98.00px;top:415.97px;width:69.50px;height:17.67px;"><span>P3 Task 4</span></div>
<div class="ct" style="left:260.00px;top:415.97px;width:31.00px;height:17.67px;"><span>04/21</span></div>
<div class="ct" style="left:291.00px;top:415.97px;width:31.50px;height:17.67px;"><span>04/24</span></div>
<div class="ct" style="left:322.50px;top:415.97px;width:30.00px;height:17.67px;"><span>4</span></div>
<div style="left:417.00px;top:415.97px;width:36.75px;height:17.67px;background:#fff;"></div>
<div style="left:417.50px;top:416.47px;width:11.80px;height:16.67px;background:linear-gradient(90deg,#92d050,#e6f6d6);"></div>
<div class="ct" style="left:417.00px;top:415.97px;width:36.75px;height:17.67px;"><span>33%</span></div>
<div style="left:453.75px;top:415.97px;width:45.75px;height:17.67px;background:#f9f9f9;"></div>
<div style="left:499.50px;top:415.97px;width:60.50px;height:17.67px;background:#f0f0f0;"></div>
<div class="ct" style="left:499.50px;top:415.97px;width:28.50px;height:17.67px;"><span>32</span></div>
<div class="ct" style="left:528.00px;top:415.97px;width:32.00px;height:17.67px;"><span>25</span></div>
<div style="left:560.00px;top:415.97px;width:109.65px;height:17.67px;background:#fafafa;"></div>
<div style="left:669.65px;top:415.97px;width:109.65px;height:17.67px;background:#e8eaf2;"></div>
<div style="left:779.30px;top:415.97px;width:109.65px;height:17.67px;background:#fafafa;"></div>
<div class="st" style="left:13.00px;top:433.64px;width:47.00px;height:17.67px;background:#00b050;color:#0b5a2b;"><span>Complete</span></div>
<div class="pr" style="left:60.00px;top:433.64px;width:38.00px;height:17.67px;background:#8497b0;color:#dce3ee;"><span>LOW</span></div>
<div style="left:98.00px;top:433.64px;width:319.00px;height:17.67px;background:#fff;"></div>
<div style="left:322.50px;top:433.64px;width:30.00px;height:17.67px;background:#f6f6f6;"></div>
<div class="nm" style="left:98.00px;top:433.64px;width:69.50px;height:17.67px;"><span>P3 Task 5</span></div>
<div class="ct" style="left:260.00px;top:433.64px;width:31.00px;height:17.67px;"><span>04/22</span></div>
<div class="ct" style="left:291.00px;top:433.64px;width:31.50px;height:17.67px;"><span>04/23</span></div>
<div class="ct" style="left:322.50px;top:433.64px;width:30.00px;height:17.67px;"><span>2</span></div>
<div style="left:417.00px;top:433.64px;width:36.75px;height:17.67px;background:#fff;"></div>
<div style="left:417.50px;top:434.14px;width:35.75px;height:16.67px;background:linear-gradient(90deg,#92d050,#e6f6d6);"></div>
<div class="ct" style="left:417.00px;top:433.64px;width:36.75px;height:17.67px;"><span>100%</span></div>
<div style="left:453.75px;top:433.64px;width:45.75px;height:17.67px;background:#f9f9f9;"></div>
<div style="left:499.50px;top:433.64px;width:60.50px;height:17.67px;background:#f0f0f0;"></div>
<div class="cs" style="left:453.75px;top:433.64px;width:45.75px;height:17.67px;"><span class="d">$</span><span class="v">1,550.00</span></div>
<div class="ct" style="left:499.50px;top:433.64px;width:28.50px;height:17.67px;"><span>14</span></div>
<div class="ct" style="left:528.00px;top:433.64px;width:32.00px;height:17.67px;"><span>16</span></div>
<div style="left:560.00px;top:433.64px;width:109.65px;height:17.67px;background:#fafafa;"></div>
<div style="left:669.65px;top:433.64px;width:109.65px;height:17.67px;background:#e8eaf2;"></div>
<div style="left:779.30px;top:433.64px;width:109.65px;height:17.67px;background:#fafafa;"></div>
<div class="st" style="left:13.00px;top:451.31px;width:47.00px;height:17.67px;background:#bdf5ee;color:#2c5f5b;"><span>Needs<br>Review</span></div>
<div class="pr" style="left:60.00px;top:451.31px;width:38.00px;height:17.67px;background:#44546a;color:#e4e8ef;"><span>MED</span></div>
<div style="left:98.00px;top:451.31px;width:319.00px;height:17.67px;background:#fff;"></div>
<div style="left:322.50px;top:451.31px;width:30.00px;height:17.67px;background:#f6f6f6;"></div>
<div class="nm" style="left:98.00px;top:451.31px;width:69.50px;height:17.67px;"><span>P3 Task 6</span></div>
<div class="ct" style="left:260.00px;top:451.31px;width:31.00px;height:17.67px;"><span>04/25</span></div>
<div class="ct" style="left:291.00px;top:451.31px;width:31.50px;height:17.67px;"><span>04/25</span></div>
<div class="ct" style="left:322.50px;top:451.31px;width:30.00px;height:17.67px;"><span>1</span></div>
<div style="left:417.00px;top:451.31px;width:36.75px;height:17.67px;background:#fff;"></div>
<div style="left:417.50px;top:451.81px;width:32.18px;height:16.67px;background:linear-gradient(90deg,#92d050,#e6f6d6);"></div>
<div class="ct" style="left:417.00px;top:451.31px;width:36.75px;height:17.67px;"><span>90%</span></div>
<div style="left:453.75px;top:451.31px;width:45.75px;height:17.67px;background:#f9f9f9;"></div>
<div style="left:499.50px;top:451.31px;width:60.50px;height:17.67px;background:#f0f0f0;"></div>
<div class="ct" style="left:499.50px;top:451.31px;width:28.50px;height:17.67px;"><span>2</span></div>
<div class="ct" style="left:528.00px;top:451.31px;width:32.00px;height:17.67px;"><span>2</span></div>
<div style="left:560.00px;top:451.31px;width:109.65px;height:17.67px;background:#fafafa;"></div>
<div style="left:669.65px;top:451.31px;width:109.65px;height:17.67px;background:#e8eaf2;"></div>
<div style="left:779.30px;top:451.31px;width:109.65px;height:17.67px;background:#fafafa;"></div>
<div style="left:13.00px;top:468.97px;width:85.00px;height:17.67px;background:#d4d4d4;"></div>
<div style="left:98.00px;top:468.97px;width:319.00px;height:17.67px;background:#d5dae2;"></div>
<div class="nm b" style="left:98.00px;top:468.97px;width:69.50px;height:17.67px;font-weight:bold;color:#111;"><span></span></div>
<div class="ct" style="left:260.00px;top:468.97px;width:31.00px;height:17.67px;font-weight:bold;color:#111;"><span></span></div>
<div class="ct" style="left:291.00px;top:468.97px;width:31.50px;height:17.67px;font-weight:bold;color:#111;"><span></span></div>
<div class="ct" style="left:322.50px;top:468.97px;width:30.00px;height:17.67px;font-weight:bold;color:#111;"><span></span></div>
<div style="left:417.00px;top:468.97px;width:36.75px;height:17.67px;background:#d5dae2;"></div>
<div style="left:453.75px;top:468.97px;width:45.75px;height:17.67px;background:#d9d9d9;"></div>
<div style="left:499.50px;top:468.97px;width:60.50px;height:17.67px;background:#d9d9d9;"></div>
<div class="ct" style="left:499.50px;top:468.97px;width:28.50px;height:17.67px;font-weight:bold;color:#111;"><span></span></div>
<div class="ct" style="left:528.00px;top:468.97px;width:32.00px;height:17.67px;font-weight:bold;color:#111;"><span></span></div>
<div style="left:560.00px;top:468.97px;width:109.65px;height:17.67px;background:#d6dae1;"></div>
<div style="left:669.65px;top:468.97px;width:109.65px;height:17.67px;background:#cfd3dc;"></div>
<div style="left:779.30px;top:468.97px;width:109.65px;height:17.67px;background:#d6dae1;"></div>
<div style="left:13.00px;top:486.64px;width:85.00px;height:17.67px;background:#fff;"></div>
<div style="left:98.00px;top:486.64px;width:319.00px;height:17.67px;background:#fff;"></div>
<div style="left:322.50px;top:486.64px;width:30.00px;height:17.67px;background:#f6f6f6;"></div>
<div class="nm" style="left:98.00px;top:486.64px;width:69.50px;height:17.67px;"><span></span></div>
<div class="ct" style="left:260.00px;top:486.64px;width:31.00px;height:17.67px;"><span></span></div>
<div class="ct" style="left:291.00px;top:486.64px;width:31.50px;height:17.67px;"><span></span></div>
<div class="ct" style="left:322.50px;top:486.64px;width:30.00px;height:17.67px;"><span></span></div>
<div style="left:417.00px;top:486.64px;width:36.75px;height:17.67px;background:#fff;"></div>
<div style="left:453.75px;top:486.64px;width:45.75px;height:17.67px;background:#f9f9f9;"></div>
<div style="left:499.50px;top:486.64px;width:60.50px;height:17.67px;background:#f0f0f0;"></div>
<div class="ct" style="left:499.50px;top:486.64px;width:28.50px;height:17.67px;"><span></span></div>
<div class="ct" style="left:528.00px;top:486.64px;width:32.00px;height:17.67px;"><span></span></div>
<div style="left:560.00px;top:486.64px;width:109.65px;height:17.67px;background:#fafafa;"></div>
<div style="left:669.65px;top:486.64px;width:109.65px;height:17.67px;background:#e8eaf2;"></div>
<div style="left:779.30px;top:486.64px;width:109.65px;height:17.67px;background:#fafafa;"></div>
<div style="left:98.00px;top:132.80px;width:462.00px;height:1.00px;background:#e2e2e2;"></div>
<div class="gl" style="left:560.00px;top:132.80px;width:328.95px;height:1.00px;background:#d6d8de;"></div>
<div style="left:98.00px;top:150.47px;width:462.00px;height:1.00px;background:#e2e2e2;"></div>
<div class="gl" style="left:560.00px;top:150.47px;width:328.95px;height:1.00px;background:#d6d8de;"></div>
<div style="left:98.00px;top:168.13px;width:462.00px;height:1.00px;background:#e2e2e2;"></div>
<div class="gl" style="left:560.00px;top:168.13px;width:328.95px;height:1.00px;background:#d6d8de;"></div>
<div style="left:98.00px;top:185.80px;width:462.00px;height:1.00px;background:#e2e2e2;"></div>
<div class="gl" style="left:560.00px;top:185.80px;width:328.95px;height:1.00px;background:#d6d8de;"></div>
<div style="left:98.00px;top:203.47px;width:462.00px;height:1.00px;background:#e2e2e2;"></div>
<div class="gl" style="left:560.00px;top:203.47px;width:328.95px;height:1.00px;background:#d6d8de;"></div>
<div style="left:98.00px;top:221.14px;width:462.00px;height:1.00px;background:#e2e2e2;"></div>
<div class="gl" style="left:560.00px;top:221.14px;width:328.95px;height:1.00px;background:#d6d8de;"></div>
<div style="left:98.00px;top:238.80px;width:462.00px;height:1.00px;background:#e2e2e2;"></div>
<div class="gl" style="left:560.00px;top:238.80px;width:328.95px;height:1.00px;background:#d6d8de;"></div>
<div style="left:98.00px;top:256.47px;width:462.00px;height:1.00px;background:#e2e2e2;"></div>
<div class="gl" style="left:560.00px;top:256.47px;width:328.95px;height:1.00px;background:#d6d8de;"></div>
<div style="left:98.00px;top:274.14px;width:462.00px;height:1.00px;background:#e2e2e2;"></div>
<div class="gl" style="left:560.00px;top:274.14px;width:328.95px;height:1.00px;background:#d6d8de;"></div>
<div style="left:98.00px;top:291.80px;width:462.00px;height:1.00px;background:#e2e2e2;"></div>
<div class="gl" style="left:560.00px;top:291.80px;width:328.95px;height:1.00px;background:#d6d8de;"></div>
<div style="left:98.00px;top:309.47px;width:462.00px;height:1.00px;background:#e2e2e2;"></div>
<div class="gl" style="left:560.00px;top:309.47px;width:328.95px;height:1.00px;background:#d6d8de;"></div>
<div style="left:98.00px;top:327.14px;width:462.00px;height:1.00px;background:#e2e2e2;"></div>
<div class="gl" style="left:560.00px;top:327.14px;width:328.95px;height:1.00px;background:#d6d8de;"></div>
<div style="left:98.00px;top:344.80px;width:462.00px;height:1.00px;background:#e2e2e2;"></div>
<div class="gl" style="left:560.00px;top:344.80px;width:328.95px;height:1.00px;background:#d6d8de;"></div>
<div style="left:98.00px;top:362.47px;width:462.00px;height:1.00px;background:#e2e2e2;"></div>
<div class="gl" style="left:560.00px;top:362.47px;width:328.95px;height:1.00px;background:#d6d8de;"></div>
<div style="left:98.00px;top:380.14px;width:462.00px;height:1.00px;background:#e2e2e2;"></div>
<div class="gl" style="left:560.00px;top:380.14px;width:328.95px;height:1.00px;background:#d6d8de;"></div>
<div style="left:98.00px;top:397.81px;width:462.00px;height:1.00px;background:#e2e2e2;"></div>
<div class="gl" style="left:560.00px;top:397.81px;width:328.95px;height:1.00px;background:#d6d8de;"></div>
<div style="left:98.00px;top:415.47px;width:462.00px;height:1.00px;background:#e2e2e2;"></div>
<div class="gl" style="left:560.00px;top:415.47px;width:328.95px;height:1.00px;background:#d6d8de;"></div>
<div style="left:98.00px;top:433.14px;width:462.00px;height:1.00px;background:#e2e2e2;"></div>
<div class="gl" style="left:560.00px;top:433.14px;width:328.95px;height:1.00px;background:#d6d8de;"></div>
<div style="left:98.00px;top:450.81px;width:462.00px;height:1.00px;background:#e2e2e2;"></div>
<div class="gl" style="left:560.00px;top:450.81px;width:328.95px;height:1.00px;background:#d6d8de;"></div>
<div style="left:98.00px;top:468.47px;width:462.00px;height:1.00px;background:#e2e2e2;"></div>
<div class="gl" style="left:560.00px;top:468.47px;width:328.95px;height:1.00px;background:#d6d8de;"></div>
<div style="left:98.00px;top:486.14px;width:462.00px;height:1.00px;background:#e2e2e2;"></div>
<div class="gl" style="left:560.00px;top:486.14px;width:328.95px;height:1.00px;background:#d6d8de;"></div>
<div style="left:98.00px;top:503.81px;width:462.00px;height:1.00px;background:#e2e2e2;"></div>
<div class="gl" style="left:560.00px;top:503.81px;width:328.95px;height:1.00px;background:#d6d8de;"></div>
<div style="left:97.50px;top:111.00px;width:1.00px;height:393.31px;background:#d8d8d8;"></div>
<div style="left:167.00px;top:111.00px;width:1.00px;height:393.31px;background:#d8d8d8;"></div>
<div style="left:222.00px;top:111.00px;width:1.00px;height:393.31px;background:#d8d8d8;"></div>
<div style="left:259.50px;top:111.00px;width:1.00px;height:393.31px;background:#c8c8c8;"></div>
<div style="left:290.50px;top:111.00px;width:1.00px;height:393.31px;background:#e2e2e2;"></div>
<div style="left:322.00px;top:111.00px;width:1.00px;height:393.31px;background:#e2e2e2;"></div>
<div style="left:352.00px;top:111.00px;width:1.00px;height:393.31px;background:#a2a2a2;"></div>
<div style="left:416.50px;top:111.00px;width:1.00px;height:393.31px;background:#d2d2d2;"></div>
<div style="left:453.25px;top:111.00px;width:1.00px;height:393.31px;background:#a6a6a6;"></div>
<div style="left:499.00px;top:111.00px;width:1.00px;height:393.31px;background:#d6d6d6;"></div>
<div style="left:527.50px;top:111.00px;width:1.00px;height:393.31px;background:#d6d6d6;"></div>
<div style="left:559.50px;top:111.00px;width:1.00px;height:393.31px;background:#a6a6a6;"></div>
<div style="left:59.50px;top:111.00px;width:1.00px;height:22.30px;background:#bdbdbd;"></div>
<div style="left:12.50px;top:111.00px;width:1.00px;height:393.31px;background:#cfcfcf;"></div>
<div style="left:13.00px;top:503.81px;width:85.00px;height:1.00px;background:#cfcfcf;"></div>
<div class="wk" style="left:560.00px;top:98.00px;width:109.65px;height:13.00px;background:#f6f6f8;"><span>Wk 1</span></div>
<div style="left:560.00px;top:111.00px;width:109.65px;height:22.30px;background:#f6f6f8;"></div>
<div class="wk" style="left:669.65px;top:98.00px;width:109.65px;height:13.00px;background:#e9ebf2;"><span>Wk 2</span></div>
<div style="left:669.65px;top:111.00px;width:109.65px;height:22.30px;background:#e9ebf2;"></div>
<div class="wk" style="left:779.30px;top:98.00px;width:109.65px;height:13.00px;background:#f6f6f8;"><span>Wk 3</span></div>
<div style="left:779.30px;top:111.00px;width:109.65px;height:22.30px;background:#f6f6f8;"></div>
<div class="dy" style="left:560.00px;top:111.00px;width:21.93px;height:22.30px;background:linear-gradient(90deg,#fefefe,#f0f0f3);"><span>3/31</span></div>
<div class="dy" style="left:581.93px;top:111.00px;width:21.93px;height:22.30px;background:linear-gradient(90deg,#fefefe,#f0f0f3);"><span>4/1</span></div>
<div class="dy" style="left:603.86px;top:111.00px;width:21.93px;height:22.30px;background:linear-gradient(90deg,#fefefe,#f0f0f3);"><span>4/2</span></div>
<div class="dy" style="left:625.79px;top:111.00px;width:21.93px;height:22.30px;background:linear-gradient(90deg,#fefefe,#f0f0f3);"><span>4/3</span></div>
<div class="dy" style="left:647.72px;top:111.00px;width:21.93px;height:22.30px;background:linear-gradient(90deg,#fefefe,#f0f0f3);"><span>4/4</span></div>
<div class="dy" style="left:669.65px;top:111.00px;width:21.93px;height:22.30px;background:linear-gradient(90deg,#eceef5,#e4e6ee);"><span>4/7</span></div>
<div class="dy" style="left:691.58px;top:111.00px;width:21.93px;height:22.30px;background:linear-gradient(90deg,#eceef5,#e4e6ee);"><span>4/8</span></div>
<div class="dy" style="left:713.51px;top:111.00px;width:21.93px;height:22.30px;background:linear-gradient(90deg,#eceef5,#e4e6ee);"><span>4/9</span></div>
<div class="dy" style="left:735.44px;top:111.00px;width:21.93px;height:22.30px;background:linear-gradient(90deg,#eceef5,#e4e6ee);"><span>4/10</span></div>
<div class="dy" style="left:757.37px;top:111.00px;width:21.93px;height:22.30px;background:linear-gradient(90deg,#eceef5,#e4e6ee);"><span>4/11</span></div>
<div class="dy" style="left:779.30px;top:111.00px;width:21.93px;height:22.30px;background:linear-gradient(90deg,#fefefe,#f0f0f3);"><span>4/14</span></div>
<div class="dy" style="left:801.23px;top:111.00px;width:21.93px;height:22.30px;background:linear-gradient(90deg,#fefefe,#f0f0f3);"><span>4/15</span></div>
<div class="dy" style="left:823.16px;top:111.00px;width:21.93px;height:22.30px;background:linear-gradient(90deg,#fefefe,#f0f0f3);"><span>4/16</span></div>
<div class="dy" style="left:845.09px;top:111.00px;width:21.93px;height:22.30px;background:linear-gradient(90deg,#fefefe,#f0f0f3);"><span>4/17</span></div>
<div class="dy" style="left:867.02px;top:111.00px;width:21.93px;height:22.30px;background:linear-gradient(90deg,#fefefe,#f0f0f3);"><span>4/18</span></div>
<div class="gl" style="left:559.50px;top:98.00px;width:1.00px;height:406.31px;background:#bfc2c8;"></div>
<div class="gl" style="left:581.43px;top:111.00px;width:1.00px;height:393.31px;background:#bfc2c8;"></div>
<div class="gl" style="left:603.36px;top:111.00px;width:1.00px;height:393.31px;background:#bfc2c8;"></div>
<div class="gl" style="left:625.29px;top:111.00px;width:1.00px;height:393.31px;background:#bfc2c8;"></div>
<div class="gl" style="left:647.22px;top:111.00px;width:1.00px;height:393.31px;background:#bfc2c8;"></div>
<div class="gl" style="left:669.15px;top:98.00px;width:1.00px;height:406.31px;background:#bfc2c8;"></div>
<div class="gl" style="left:691.08px;top:111.00px;width:1.00px;height:393.31px;background:#bfc2c8;"></div>
<div class="gl" style="left:713.01px;top:111.00px;width:1.00px;height:393.31px;background:#bfc2c8;"></div>
<div class="gl" style="left:734.94px;top:111.00px;width:1.00px;height:393.31px;background:#bfc2c8;"></div>
<div class="gl" style="left:756.87px;top:111.00px;width:1.00px;height:393.31px;background:#bfc2c8;"></div>
<div class="gl" style="left:778.80px;top:98.00px;width:1.00px;height:406.31px;background:#bfc2c8;"></div>
<div class="gl" style="left:800.73px;top:111.00px;width:1.00px;height:393.31px;background:#bfc2c8;"></div>
<div class="gl" style="left:822.66px;top:111.00px;width:1.00px;height:393.31px;background:#bfc2c8;"></div>
<div class="gl" style="left:844.59px;top:111.00px;width:1.00px;height:393.31px;background:#bfc2c8;"></div>
<div class="gl" style="left:866.52px;top:111.00px;width:1.00px;height:393.31px;background:#bfc2c8;"></div>
<div class="gl" style="left:888.45px;top:98.00px;width:1.00px;height:406.31px;background:#bfc2c8;"></div>
<div style="left:560.00px;top:97.50px;width:328.95px;height:1.00px;background:#c4c6cc;"></div>
<div style="left:560.00px;top:110.50px;width:328.95px;height:1.00px;background:#c4c6cc;"></div>
<div class="bar" style="left:560.00px;top:133.30px;width:328.95px;height:17.67px;background:#00b050;"></div>
<div class="bar" style="left:560.00px;top:150.97px;width:87.72px;height:17.67px;background:#92d050;"></div>
<div class="bar" style="left:603.86px;top:168.63px;width:285.09px;height:17.67px;background:#92d050;"></div>
<div class="bar" style="left:779.30px;top:186.30px;width:109.65px;height:17.67px;background:#92d050;"></div>
<div class="bar" style="left:625.79px;top:203.97px;width:153.51px;height:17.67px;background:#92d050;"></div>
<div class="bar" style="left:713.51px;top:221.64px;width:175.44px;height:17.67px;background:#92d050;"></div>
<div class="bar" style="left:867.02px;top:239.30px;width:21.93px;height:17.67px;background:#92d050;"></div>
<div class="bar" style="left:779.30px;top:345.30px;width:109.65px;height:17.67px;background:#00b050;"></div>
<div class="bar" style="left:779.30px;top:362.97px;width:109.65px;height:17.67px;background:#92d050;"></div>
<div class="bar" style="left:801.23px;top:380.64px;width:43.86px;height:17.67px;background:#92d050;"></div>
<div class="bar" style="left:845.09px;top:398.31px;width:21.93px;height:17.67px;background:#92d050;"></div>
</div></div>
<div class="title"><span style="left:0.6px;letter-spacing:0.38px">Multi-Project</span><span style="left:192.7px;letter-spacing:0.6px">Tracking</span><span style="left:326.2px;letter-spacing:1.1px">Template</span></div>
<div class="front"><div class="mini sheet" style="left:5.28px;top:-18.75px;transform:scale(0.532);">
<div class="lbl" style="left:15.00px;top:60.60px;width:105.00px;height:8.00px;">COMPANY NAME</div>
<div class="lbl" style="left:289.50px;top:60.60px;width:90.50px;height:8.00px;transform:scaleX(0.9);transform-origin:0 0;">START DATE</div>
<div style="left:13.00px;top:70.00px;width:341.00px;height:22.00px;border:1px solid #c9c9c9;background:#fff;box-sizing:border-box;"></div>
<div style="left:260.00px;top:70.00px;width:1.00px;height:22.00px;background:#c9c9c9;"></div>
<div class="date" style="left:266.00px;top:69.60px;width:87.00px;height:21.00px;">Monday, March 31, 2025</div>
<div class="sec" style="left:99.50px;top:97.30px;width:100.50px;height:13.00px;transform:scaleX(0.775);">PROJECTS</div>
<div class="sec" style="left:355.00px;top:97.30px;width:105.00px;height:13.00px;transform:scaleX(0.775);">DELIVERABLES</div>
<div class="sec" style="left:455.00px;top:97.30px;width:105.00px;height:13.00px;transform:scaleX(0.81);">COST / HOURS</div>
<div class="hd" style="left:13.00px;top:111.00px;width:47.00px;height:22.30px;background:#cbcbcb;"><span>STATUS</span></div>
<div class="hd" style="left:60.00px;top:111.00px;width:38.00px;height:22.30px;background:#cbcbcb;"><span>PRIORITY</span></div>
<div class="hd" style="left:98.00px;top:111.00px;width:69.50px;height:22.30px;background:#ced4dc;"><span>PROJECT NAMES +<br>TASK TITLES</span></div>
<div class="hd" style="left:167.50px;top:111.00px;width:55.00px;height:22.30px;background:#ced4dc;"><span>TASK<br>DESCRIPTION</span></div>
<div class="hd" style="left:222.50px;top:111.00px;width:37.50px;height:22.30px;background:#ced4dc;"><span>TASK<br>OWNER</span></div>
<div class="hd" style="left:260.00px;top:111.00px;width:31.00px;height:22.30px;background:#ced4dc;"><span>START<br>DATE</span></div>
<div class="hd" style="left:291.00px;top:111.00px;width:31.50px;height:22.30px;background:#ced4dc;"><span>END<br>DATE</span></div>
<div class="hd" style="left:322.50px;top:111.00px;width:30.00px;height:22.30px;background:#ced4dc;"><span># of Days</span></div>
<div class="hd" style="left:352.50px;top:111.00px;width:64.50px;height:22.30px;background:#b4bfd0;color:#25344f;"><span>DELIVERABLE</span></div>
<div class="hd" style="left:417.00px;top:111.00px;width:36.75px;height:22.30px;background:#c8d5e7;color:#25344f;"><span>%<br>COMPLETE</span></div>
<div class="hd" style="left:453.75px;top:111.00px;width:45.75px;height:22.30px;background:#cbcbcb;"><span>FIXED COST</span></div>
<div class="hd" style="left:499.50px;top:111.00px;width:28.50px;height:22.30px;background:#cbcbcb;"><span>EST.<br>HOURS</span></div>
<div class="hd" style="left:528.00px;top:111.00px;width:32.00px;height:22.30px;background:#cbcbcb;"><span>ACTUAL<br>HOURS</span></div>
<div class="st" style="left:13.00px;top:133.30px;width:47.00px;height:17.67px;background:#92d050;color:#1f5f12;"><span>In Progress</span></div>
<div class="pr" style="left:60.00px;top:133.30px;width:38.00px;height:17.67px;background:#222b36;color:#dfe3ea;"><span>HIGH</span></div>
<div style="left:98.00px;top:133.30px;width:319.00px;height:17.67px;background:#d5dae2;"></div>
<div class="nm b" style="left:98.00px;top:133.30px;width:69.50px;height:17.67px;font-weight:bold;color:#111;"><span>PROJECT 1</span></div>
<div class="ct" style="left:260.00px;top:133.30px;width:31.00px;height:17.67px;font-weight:bold;color:#111;"><span>03/31</span></div>
<div class="ct" style="left:291.00px;top:133.30px;width:31.50px;height:17.67px;font-weight:bold;color:#111;"><span>04/21</span></div>
<div class="ct" style="left:322.50px;top:133.30px;width:30.00px;height:17.67px;font-weight:bold;color:#111;"><span>16</span></div>
<div style="left:417.00px;top:133.30px;width:36.75px;height:17.67px;background:#d5dae2;"></div>
<div style="left:417.50px;top:133.80px;width:35.75px;height:16.67px;background:linear-gradient(90deg,#00b050,#c4eed6);"></div>
<div class="ct" style="left:417.00px;top:133.30px;width:36.75px;height:17.67px;font-weight:bold;color:#111;"><span>74%</span></div>
<div style="left:453.75px;top:133.30px;width:45.75px;height:17.67px;background:#d9d9d9;"></div>
<div style="left:499.50px;top:133.30px;width:60.50px;height:17.67px;background:#d9d9d9;"></div>
<div class="cs" style="left:453.75px;top:133.30px;width:45.75px;height:17.67px;font-weight:bold;color:#111;"><span class="d">$</span><span class="v">22,530.00</span></div>
<div class="ct" style="left:499.50px;top:133.30px;width:28.50px;height:17.67px;font-weight:bold;color:#111;"><span>306</span></div>
<div class="ct" style="left:528.00px;top:133.30px;width:32.00px;height:17.67px;font-weight:bold;color:#111;"><span>298</span></div>
<div style="left:560.00px;top:133.30px;width:91.35px;height:17.67px;background:#d6dae1;"></div>
<div style="left:651.35px;top:133.30px;width:91.35px;height:17.67px;background:#cfd3dc;"></div>
<div style="left:742.71px;top:133.30px;width:91.35px;height:17.67px;background:#d6dae1;"></div>
<div style="left:834.06px;top:133.30px;width:91.35px;height:17.67px;background:#cfd3dc;"></div>
<div style="left:925.41px;top:133.30px;width:91.35px;height:17.67px;background:#d6dae1;"></div>
<div style="left:1016.77px;top:133.30px;width:91.35px;height:17.67px;background:#cfd3dc;"></div>
<div style="left:1108.12px;top:133.30px;width:91.35px;height:17.67px;background:#d6dae1;"></div>
<div style="left:1199.47px;top:133.30px;width:91.35px;height:17.67px;background:#cfd3dc;"></div>
<div style="left:1290.83px;top:133.30px;width:91.35px;height:17.67px;background:#d6dae1;"></div>
<div style="left:1382.18px;top:133.30px;width:91.35px;height:17.67px;background:#cfd3dc;"></div>
<div class="st" style="left:13.00px;top:150.97px;width:47.00px;height:17.67px;background:#92d050;color:#1f5f12;"><span>In Progress</span></div>
<div class="pr" style="left:60.00px;top:150.97px;width:38.00px;height:17.67px;background:#44546a;color:#e4e8ef;"><span>MED</span></div>
<div style="left:98.00px;top:150.97px;width:319.00px;height:17.67px;background:#fff;"></div>
<div style="left:322.50px;top:150.97px;width:30.00px;height:17.67px;background:#f6f6f6;"></div>
<div class="nm" style="left:98.00px;top:150.97px;width:69.50px;height:17.67px;"><span>P1 Task 1</span></div>
<div class="ct" style="left:260.00px;top:150.97px;width:31.00px;height:17.67px;"><span>03/31</span></div>
<div class="ct" style="left:291.00px;top:150.97px;width:31.50px;height:17.67px;"><span>04/03</span></div>
<div class="ct" style="left:322.50px;top:150.97px;width:30.00px;height:17.67px;"><span>4</span></div>
<div style="left:417.00px;top:150.97px;width:36.75px;height:17.67px;background:#fff;"></div>
<div style="left:417.50px;top:151.47px;width:11.80px;height:16.67px;background:linear-gradient(90deg,#92d050,#e6f6d6);"></div>
<div class="ct" style="left:417.00px;top:150.97px;width:36.75px;height:17.67px;"><span>33%</span></div>
<div style="left:453.75px;top:150.97px;width:45.75px;height:17.67px;background:#f9f9f9;"></div>
<div style="left:499.50px;top:150.97px;width:60.50px;height:17.67px;background:#f0f0f0;"></div>
<div class="cs" style="left:453.75px;top:150.97px;width:45.75px;height:17.67px;"><span class="d">$</span><span class="v">8,500.00</span></div>
<div class="ct" style="left:499.50px;top:150.97px;width:28.50px;height:17.67px;"><span>32</span></div>
<div class="ct" style="left:528.00px;top:150.97px;width:32.00px;height:17.67px;"><span>36</span></div>
<div style="left:560.00px;top:150.97px;width:91.35px;height:17.67px;background:#f4f6f9;"></div>
<div style="left:651.35px;top:150.97px;width:91.35px;height:17.67px;background:#e5e8ef;"></div>
<div style="left:742.71px;top:150.97px;width:91.35px;height:17.67px;background:#f4f6f9;"></div>
<div style="left:834.06px;top:150.97px;width:91.35px;height:17.67px;background:#e5e8ef;"></div>
<div style="left:925.41px;top:150.97px;width:91.35px;height:17.67px;background:#f4f6f9;"></div>
<div style="left:1016.77px;top:150.97px;width:91.35px;height:17.67px;background:#e5e8ef;"></div>
<div style="left:1108.12px;top:150.97px;width:91.35px;height:17.67px;background:#f4f6f9;"></div>
<div style="left:1199.47px;top:150.97px;width:91.35px;height:17.67px;background:#e5e8ef;"></div>
<div style="left:1290.83px;top:150.97px;width:91.35px;height:17.67px;background:#f4f6f9;"></div>
<div style="left:1382.18px;top:150.97px;width:91.35px;height:17.67px;background:#e5e8ef;"></div>
<div class="st" style="left:13.00px;top:168.63px;width:47.00px;height:17.67px;background:#dbdbdb;color:#444;"><span>On Hold</span></div>
<div class="pr" style="left:60.00px;top:168.63px;width:38.00px;height:17.67px;background:#44546a;color:#e4e8ef;"><span>MED</span></div>
<div style="left:98.00px;top:168.63px;width:319.00px;height:17.67px;background:#fff;"></div>
<div style="left:322.50px;top:168.63px;width:30.00px;height:17.67px;background:#f6f6f6;"></div>
<div class="nm" style="left:98.00px;top:168.63px;width:69.50px;height:17.67px;"><span>P1 Task 2</span></div>
<div class="ct" style="left:260.00px;top:168.63px;width:31.00px;height:17.67px;"><span>04/02</span></div>
<div class="ct" style="left:291.00px;top:168.63px;width:31.50px;height:17.67px;"><span>04/18</span></div>
<div class="ct" style="left:322.50px;top:168.63px;width:30.00px;height:17.67px;"><span>13</span></div>
<div style="left:417.00px;top:168.63px;width:36.75px;height:17.67px;background:#fff;"></div>
<div style="left:417.50px;top:169.13px;width:35.75px;height:16.67px;background:linear-gradient(90deg,#92d050,#e6f6d6);"></div>
<div class="ct" style="left:417.00px;top:168.63px;width:36.75px;height:17.67px;"><span>100%</span></div>
<div style="left:453.75px;top:168.63px;width:45.75px;height:17.67px;background:#f9f9f9;"></div>
<div style="left:499.50px;top:168.63px;width:60.50px;height:17.67px;background:#f0f0f0;"></div>
<div class="cs" style="left:453.75px;top:168.63px;width:45.75px;height:17.67px;"><span class="d">$</span><span class="v">2,500.00</span></div>
<div class="ct" style="left:499.50px;top:168.63px;width:28.50px;height:17.67px;"><span>104</span></div>
<div class="ct" style="left:528.00px;top:168.63px;width:32.00px;height:17.67px;"><span>100</span></div>
<div style="left:560.00px;top:168.63px;width:91.35px;height:17.67px;background:#f4f6f9;"></div>
<div style="left:651.35px;top:168.63px;width:91.35px;height:17.67px;background:#e5e8ef;"></div>
<div style="left:742.71px;top:168.63px;width:91.35px;height:17.67px;background:#f4f6f9;"></div>
<div style="left:834.06px;top:168.63px;width:91.35px;height:17.67px;background:#e5e8ef;"></div>
<div style="left:925.41px;top:168.63px;width:91.35px;height:17.67px;background:#f4f6f9;"></div>
<div style="left:1016.77px;top:168.63px;width:91.35px;height:17.67px;background:#e5e8ef;"></div>
<div style="left:1108.12px;top:168.63px;width:91.35px;height:17.67px;background:#f4f6f9;"></div>
<div style="left:1199.47px;top:168.63px;width:91.35px;height:17.67px;background:#e5e8ef;"></div>
<div style="left:1290.83px;top:168.63px;width:91.35px;height:17.67px;background:#f4f6f9;"></div>
<div style="left:1382.18px;top:168.63px;width:91.35px;height:17.67px;background:#e5e8ef;"></div>
<div class="st" style="left:13.00px;top:186.30px;width:47.00px;height:17.67px;background:#ffd966;color:#5a4a10;"><span>Overdue</span></div>
<div class="pr" style="left:60.00px;top:186.30px;width:38.00px;height:17.67px;background:#222b36;color:#dfe3ea;"><span>HIGH</span></div>
<div style="left:98.00px;top:186.30px;width:319.00px;height:17.67px;background:#fff;"></div>
<div style="left:322.50px;top:186.30px;width:30.00px;height:17.67px;background:#f6f6f6;"></div>
<div class="nm" style="left:98.00px;top:186.30px;width:69.50px;height:17.67px;"><span>P1 Task 3</span></div>
<div class="ct" style="left:260.00px;top:186.30px;width:31.00px;height:17.67px;"><span>04/13</span></div>
<div class="ct" style="left:291.00px;top:186.30px;width:31.50px;height:17.67px;"><span>04/18</span></div>
<div class="ct" style="left:322.50px;top:186.30px;width:30.00px;height:17.67px;"><span>5</span></div>
<div style="left:417.00px;top:186.30px;width:36.75px;height:17.67px;background:#fff;"></div>
<div style="left:417.50px;top:186.80px;width:32.18px;height:16.67px;background:linear-gradient(90deg,#92d050,#e6f6d6);"></div>
<div class="ct" style="left:417.00px;top:186.30px;width:36.75px;height:17.67px;"><span>90%</span></div>
<div style="left:453.75px;top:186.30px;width:45.75px;height:17.67px;background:#f9f9f9;"></div>
<div style="left:499.50px;top:186.30px;width:60.50px;height:17.67px;background:#f0f0f0;"></div>
<div class="cs" style="left:453.75px;top:186.30px;width:45.75px;height:17.67px;"><span class="d">$</span><span class="v">3,200.00</span></div>
<div class="ct" style="left:499.50px;top:186.30px;width:28.50px;height:17.67px;"><span>40</span></div>
<div class="ct" style="left:528.00px;top:186.30px;width:32.00px;height:17.67px;"><span>40</span></div>
<div style="left:560.00px;top:186.30px;width:91.35px;height:17.67px;background:#f4f6f9;"></div>
<div style="left:651.35px;top:186.30px;width:91.35px;height:17.67px;background:#e5e8ef;"></div>
<div style="left:742.71px;top:186.30px;width:91.35px;height:17.67px;background:#f4f6f9;"></div>
<div style="left:834.06px;top:186.30px;width:91.35px;height:17.67px;background:#e5e8ef;"></div>
<div style="left:925.41px;top:186.30px;width:91.35px;height:17.67px;background:#f4f6f9;"></div>
<div style="left:1016.77px;top:186.30px;width:91.35px;height:17.67px;background:#e5e8ef;"></div>
<div style="left:1108.12px;top:186.30px;width:91.35px;height:17.67px;background:#f4f6f9;"></div>
<div style="left:1199.47px;top:186.30px;width:91.35px;height:17.67px;background:#e5e8ef;"></div>
<div style="left:1290.83px;top:186.30px;width:91.35px;height:17.67px;background:#f4f6f9;"></div>
<div style="left:1382.18px;top:186.30px;width:91.35px;height:17.67px;background:#e5e8ef;"></div>
<div class="st" style="left:13.00px;top:203.97px;width:47.00px;height:17.67px;background:#bdf5ee;color:#2c5f5b;"><span>Needs<br>Review</span></div>
<div class="pr" style="left:60.00px;top:203.97px;width:38.00px;height:17.67px;background:#8497b0;color:#dce3ee;"><span>LOW</span></div>
<div style="left:98.00px;top:203.97px;width:319.00px;height:17.67px;background:#fff;"></div>
<div style="left:322.50px;top:203.97px;width:30.00px;height:17.67px;background:#f6f6f6;"></div>
<div class="nm" style="left:98.00px;top:203.97px;width:69.50px;height:17.67px;"><span>P1 Task 4</span></div>
<div class="ct" style="left:260.00px;top:203.97px;width:31.00px;height:17.67px;"><span>04/03</span></div>
<div class="ct" style="left:291.00px;top:203.97px;width:31.50px;height:17.67px;"><span>04/12</span></div>
<div class="ct" style="left:322.50px;top:203.97px;width:30.00px;height:17.67px;"><span>7</span></div>
<div style="left:417.00px;top:203.97px;width:36.75px;height:17.67px;background:#fff;"></div>
<div style="left:417.50px;top:204.47px;width:11.80px;height:16.67px;background:linear-gradient(90deg,#92d050,#e6f6d6);"></div>
<div class="ct" style="left:417.00px;top:203.97px;width:36.75px;height:17.67px;"><span>33%</span></div>
<div style="left:453.75px;top:203.97px;width:45.75px;height:17.67px;background:#f9f9f9;"></div>
<div style="left:499.50px;top:203.97px;width:60.50px;height:17.67px;background:#f0f0f0;"></div>
<div class="cs" style="left:453.75px;top:203.97px;width:45.75px;height:17.67px;"><span class="d">$</span><span class="v">750.00</span></div>
<div class="ct" style="left:499.50px;top:203.97px;width:28.50px;height:17.67px;"><span>50</span></div>
<div class="ct" style="left:528.00px;top:203.97px;width:32.00px;height:17.67px;"><span>56</span></div>
<div style="left:560.00px;top:203.97px;width:91.35px;height:17.67px;background:#f4f6f9;"></div>
<div style="left:651.35px;top:203.97px;width:91.35px;height:17.67px;background:#e5e8ef;"></div>
<div style="left:742.71px;top:203.97px;width:91.35px;height:17.67px;background:#f4f6f9;"></div>
<div style="left:834.06px;top:203.97px;width:91.35px;height:17.67px;background:#e5e8ef;"></div>
<div style="left:925.41px;top:203.97px;width:91.35px;height:17.67px;background:#f4f6f9;"></div>
<div style="left:1016.77px;top:203.97px;width:91.35px;height:17.67px;background:#e5e8ef;"></div>
<div style="left:1108.12px;top:203.97px;width:91.35px;height:17.67px;background:#f4f6f9;"></div>
<div style="left:1199.47px;top:203.97px;width:91.35px;height:17.67px;background:#e5e8ef;"></div>
<div style="left:1290.83px;top:203.97px;width:91.35px;height:17.67px;background:#f4f6f9;"></div>
<div style="left:1382.18px;top:203.97px;width:91.35px;height:17.67px;background:#e5e8ef;"></div>
<div class="st" style="left:13.00px;top:221.64px;width:47.00px;height:17.67px;background:#00b050;color:#0b5a2b;"><span>Complete</span></div>
<div class="pr" style="left:60.00px;top:221.64px;width:38.00px;height:17.67px;background:#44546a;color:#e4e8ef;"><span>MED</span></div>
<div style="left:98.00px;top:221.64px;width:319.00px;height:17.67px;background:#fff;"></div>
<div style="left:322.50px;top:221.64px;width:30.00px;height:17.67px;background:#f6f6f6;"></div>
<div class="nm" style="left:98.00px;top:221.64px;width:69.50px;height:17.67px;"><span>P1 Task 5</span></div>
<div class="ct" style="left:260.00px;top:221.64px;width:31.00px;height:17.67px;"><span>04/09</span></div>
<div class="ct" style="left:291.00px;top:221.64px;width:31.50px;height:17.67px;"><span>04/20</span></div>
<div class="ct" style="left:322.50px;top:221.64px;width:30.00px;height:17.67px;"><span>8</span></div>
<div style="left:417.00px;top:221.64px;width:36.75px;height:17.67px;background:#fff;"></div>
<div style="left:417.50px;top:222.14px;width:35.75px;height:16.67px;background:linear-gradient(90deg,#92d050,#e6f6d6);"></div>
<div class="ct" style="left:417.00px;top:221.64px;width:36.75px;height:17.67px;"><span>100%</span></div>
<div style="left:453.75px;top:221.64px;width:45.75px;height:17.67px;background:#f9f9f9;"></div>
<div style="left:499.50px;top:221.64px;width:60.50px;height:17.67px;background:#f0f0f0;"></div>
<div class="cs" style="left:453.75px;top:221.64px;width:45.75px;height:17.67px;"><span class="d">$</span><span class="v">6,380.00</span></div>
<div class="ct" style="left:499.50px;top:221.64px;width:28.50px;height:17.67px;"><span>64</span></div>
<div class="ct" style="left:528.00px;top:221.64px;width:32.00px;height:17.67px;"><span>56</span></div>
<div style="left:560.00px;top:221.64px;width:91.35px;height:17.67px;background:#f4f6f9;"></div>
<div style="left:651.35px;top:221.64px;width:91.35px;height:17.67px;background:#e5e8ef;"></div>
<div style="left:742.71px;top:221.64px;width:91.35px;height:17.67px;background:#f4f6f9;"></div>
<div style="left:834.06px;top:221.64px;width:91.35px;height:17.67px;background:#e5e8ef;"></div>
<div style="left:925.41px;top:221.64px;width:91.35px;height:17.67px;background:#f4f6f9;"></div>
<div style="left:1016.77px;top:221.64px;width:91.35px;height:17.67px;background:#e5e8ef;"></div>
<div style="left:1108.12px;top:221.64px;width:91.35px;height:17.67px;background:#f4f6f9;"></div>
<div style="left:1199.47px;top:221.64px;width:91.35px;height:17.67px;background:#e5e8ef;"></div>
<div style="left:1290.83px;top:221.64px;width:91.35px;height:17.67px;background:#f4f6f9;"></div>
<div style="left:1382.18px;top:221.64px;width:91.35px;height:17.67px;background:#e5e8ef;"></div>
<div class="st" style="left:13.00px;top:239.30px;width:47.00px;height:17.67px;background:#bde0e4;color:#35585c;"><span>Needs<br>Update</span></div>
<div class="pr" style="left:60.00px;top:239.30px;width:38.00px;height:17.67px;background:#222b36;color:#dfe3ea;"><span>HIGH</span></div>
<div style="left:98.00px;top:239.30px;width:319.00px;height:17.67px;background:#fff;"></div>
<div style="left:322.50px;top:239.30px;width:30.00px;height:17.67px;background:#f6f6f6;"></div>
<div class="nm" style="left:98.00px;top:239.30px;width:69.50px;height:17.67px;"><span>P1 Task 6</span></div>
<div class="ct" style="left:260.00px;top:239.30px;width:31.00px;height:17.67px;"><span>04/18</span></div>
<div class="ct" style="left:291.00px;top:239.30px;width:31.50px;height:17.67px;"><span>04/21</span></div>
<div class="ct" style="left:322.50px;top:239.30px;width:30.00px;height:17.67px;"><span>2</span></div>
<div style="left:417.00px;top:239.30px;width:36.75px;height:17.67px;background:#fff;"></div>
<div style="left:417.50px;top:239.80px;width:32.18px;height:16.67px;background:linear-gradient(90deg,#92d050,#e6f6d6);"></div>
<div class="ct" style="left:417.00px;top:239.30px;width:36.75px;height:17.67px;"><span>90%</span></div>
<div style="left:453.75px;top:239.30px;width:45.75px;height:17.67px;background:#f9f9f9;"></div>
<div style="left:499.50px;top:239.30px;width:60.50px;height:17.67px;background:#f0f0f0;"></div>
<div class="cs" style="left:453.75px;top:239.30px;width:45.75px;height:17.67px;"><span class="d">$</span><span class="v">1,200.00</span></div>
<div class="ct" style="left:499.50px;top:239.30px;width:28.50px;height:17.67px;"><span>16</span></div>
<div class="ct" style="left:528.00px;top:239.30px;width:32.00px;height:17.67px;"><span>10</span></div>
<div style="left:560.00px;top:239.30px;width:91.35px;height:17.67px;background:#f4f6f9;"></div>
<div style="left:651.35px;top:239.30px;width:91.35px;height:17.67px;background:#e5e8ef;"></div>
<div style="left:742.71px;top:239.30px;width:91.35px;height:17.67px;background:#f4f6f9;"></div>
<div style="left:834.06px;top:239.30px;width:91.35px;height:17.67px;background:#e5e8ef;"></div>
<div style="left:925.41px;top:239.30px;width:91.35px;height:17.67px;background:#f4f6f9;"></div>
<div style="left:1016.77px;top:239.30px;width:91.35px;height:17.67px;background:#e5e8ef;"></div>
<div style="left:1108.12px;top:239.30px;width:91.35px;height:17.67px;background:#f4f6f9;"></div>
<div style="left:1199.47px;top:239.30px;width:91.35px;height:17.67px;background:#e5e8ef;"></div>
<div style="left:1290.83px;top:239.30px;width:91.35px;height:17.67px;background:#f4f6f9;"></div>
<div style="left:1382.18px;top:239.30px;width:91.35px;height:17.67px;background:#e5e8ef;"></div>
<div class="st" style="left:13.00px;top:256.97px;width:47.00px;height:17.67px;background:#92d050;color:#1f5f12;"><span>In Progress</span></div>
<div class="pr" style="left:60.00px;top:256.97px;width:38.00px;height:17.67px;background:#44546a;color:#e4e8ef;"><span>MED</span></div>
<div style="left:98.00px;top:256.97px;width:319.00px;height:17.67px;background:#d5dae2;"></div>
<div class="nm b" style="left:98.00px;top:256.97px;width:69.50px;height:17.67px;font-weight:bold;color:#111;"><span>PROJECT 2</span></div>
<div class="ct" style="left:260.00px;top:256.97px;width:31.00px;height:17.67px;font-weight:bold;color:#111;"><span>04/22</span></div>
<div class="ct" style="left:291.00px;top:256.97px;width:31.50px;height:17.67px;font-weight:bold;color:#111;"><span>06/21</span></div>
<div class="ct" style="left:322.50px;top:256.97px;width:30.00px;height:17.67px;font-weight:bold;color:#111;"><span>44</span></div>
<div style="left:417.00px;top:256.97px;width:36.75px;height:17.67px;background:#d5dae2;"></div>
<div style="left:417.50px;top:257.47px;width:15.94px;height:16.67px;background:linear-gradient(90deg,#00b050,#c4eed6);"></div>
<div class="ct" style="left:417.00px;top:256.97px;width:36.75px;height:17.67px;font-weight:bold;color:#111;"><span>33%</span></div>
<div style="left:453.75px;top:256.97px;width:45.75px;height:17.67px;background:#d9d9d9;"></div>
<div style="left:499.50px;top:256.97px;width:60.50px;height:17.67px;background:#d9d9d9;"></div>
<div class="cs" style="left:453.75px;top:256.97px;width:45.75px;height:17.67px;font-weight:bold;color:#111;"><span class="d">$</span><span class="v">16,700.00</span></div>
<div class="ct" style="left:499.50px;top:256.97px;width:28.50px;height:17.67px;font-weight:bold;color:#111;"><span>792</span></div>
<div class="ct" style="left:528.00px;top:256.97px;width:32.00px;height:17.67px;font-weight:bold;color:#111;"><span>367</span></div>
<div style="left:560.00px;top:256.97px;width:91.35px;height:17.67px;background:#d6dae1;"></div>
<div style="left:651.35px;top:256.97px;width:91.35px;height:17.67px;background:#cfd3dc;"></div>
<div style="left:742.71px;top:256.97px;width:91.35px;height:17.67px;background:#d6dae1;"></div>
<div style="left:834.06px;top:256.97px;width:91.35px;height:17.67px;background:#cfd3dc;"></div>
<div style="left:925.41px;top:256.97px;width:91.35px;height:17.67px;background:#d6dae1;"></div>
<div style="left:1016.77px;top:256.97px;width:91.35px;height:17.67px;background:#cfd3dc;"></div>
<div style="left:1108.12px;top:256.97px;width:91.35px;height:17.67px;background:#d6dae1;"></div>
<div style="left:1199.47px;top:256.97px;width:91.35px;height:17.67px;background:#cfd3dc;"></div>
<div style="left:1290.83px;top:256.97px;width:91.35px;height:17.67px;background:#d6dae1;"></div>
<div style="left:1382.18px;top:256.97px;width:91.35px;height:17.67px;background:#cfd3dc;"></div>
<div class="st" style="left:13.00px;top:274.64px;width:47.00px;height:17.67px;background:#bde0e4;color:#35585c;"><span>Needs<br>Update</span></div>
<div class="pr" style="left:60.00px;top:274.64px;width:38.00px;height:17.67px;background:#8497b0;color:#dce3ee;"><span>LOW</span></div>
<div style="left:98.00px;top:274.64px;width:319.00px;height:17.67px;background:#fff;"></div>
<div style="left:322.50px;top:274.64px;width:30.00px;height:17.67px;background:#f6f6f6;"></div>
<div class="nm" style="left:98.00px;top:274.64px;width:69.50px;height:17.67px;"><span>P2 Task 1</span></div>
<div class="ct" style="left:260.00px;top:274.64px;width:31.00px;height:17.67px;"><span>04/22</span></div>
<div class="ct" style="left:291.00px;top:274.64px;width:31.50px;height:17.67px;"><span>06/21</span></div>
<div class="ct" style="left:322.50px;top:274.64px;width:30.00px;height:17.67px;"><span>44</span></div>
<div style="left:417.00px;top:274.64px;width:36.75px;height:17.67px;background:#fff;"></div>
<div style="left:417.50px;top:275.14px;width:25.02px;height:16.67px;background:linear-gradient(90deg,#92d050,#e6f6d6);"></div>
<div class="ct" style="left:417.00px;top:274.64px;width:36.75px;height:17.67px;"><span>70%</span></div>
<div style="left:453.75px;top:274.64px;width:45.75px;height:17.67px;background:#f9f9f9;"></div>
<div style="left:499.50px;top:274.64px;width:60.50px;height:17.67px;background:#f0f0f0;"></div>
<div class="cs" style="left:453.75px;top:274.64px;width:45.75px;height:17.67px;"><span class="d">$</span><span class="v">2,200.00</span></div>
<div class="ct" style="left:499.50px;top:274.64px;width:28.50px;height:17.67px;"><span>350</span></div>
<div class="ct" style="left:528.00px;top:274.64px;width:32.00px;height:17.67px;"><span>356</span></div>
<div style="left:560.00px;top:274.64px;width:91.35px;height:17.67px;background:#f4f6f9;"></div>
<div style="left:651.35px;top:274.64px;width:91.35px;height:17.67px;background:#e5e8ef;"></div>
<div style="left:742.71px;top:274.64px;width:91.35px;height:17.67px;background:#f4f6f9;"></div>
<div style="left:834.06px;top:274.64px;width:91.35px;height:17.67px;background:#e5e8ef;"></div>
<div style="left:925.41px;top:274.64px;width:91.35px;height:17.67px;background:#f4f6f9;"></div>
<div style="left:1016.77px;top:274.64px;width:91.35px;height:17.67px;background:#e5e8ef;"></div>
<div style="left:1108.12px;top:274.64px;width:91.35px;height:17.67px;background:#f4f6f9;"></div>
<div style="left:1199.47px;top:274.64px;width:91.35px;height:17.67px;background:#e5e8ef;"></div>
<div style="left:1290.83px;top:274.64px;width:91.35px;height:17.67px;background:#f4f6f9;"></div>
<div style="left:1382.18px;top:274.64px;width:91.35px;height:17.67px;background:#e5e8ef;"></div>
<div class="st" style="left:13.00px;top:292.30px;width:47.00px;height:17.67px;background:#92d050;color:#1f5f12;"><span>In Progress</span></div>
<div class="pr" style="left:60.00px;top:292.30px;width:38.00px;height:17.67px;background:#222b36;color:#dfe3ea;"><span>HIGH</span></div>
<div style="left:98.00px;top:292.30px;width:319.00px;height:17.67px;background:#fff;"></div>
<div style="left:322.50px;top:292.30px;width:30.00px;height:17.67px;background:#f6f6f6;"></div>
<div class="nm" style="left:98.00px;top:292.30px;width:69.50px;height:17.67px;"><span>P2 Task 2</span></div>
<div class="ct" style="left:260.00px;top:292.30px;width:31.00px;height:17.67px;"><span>04/30</span></div>
<div class="ct" style="left:291.00px;top:292.30px;width:31.50px;height:17.67px;"><span>05/02</span></div>
<div class="ct" style="left:322.50px;top:292.30px;width:30.00px;height:17.67px;"><span>3</span></div>
<div style="left:417.00px;top:292.30px;width:36.75px;height:17.67px;background:#fff;"></div>
<div style="left:417.50px;top:292.80px;width:21.45px;height:16.67px;background:linear-gradient(90deg,#92d050,#e6f6d6);"></div>
<div class="ct" style="left:417.00px;top:292.30px;width:36.75px;height:17.67px;"><span>60%</span></div>
<div style="left:453.75px;top:292.30px;width:45.75px;height:17.67px;background:#f9f9f9;"></div>
<div style="left:499.50px;top:292.30px;width:60.50px;height:17.67px;background:#f0f0f0;"></div>
<div class="cs" style="left:453.75px;top:292.30px;width:45.75px;height:17.67px;"><span class="d">$</span><span class="v">14,500.00</span></div>
<div class="ct" style="left:499.50px;top:292.30px;width:28.50px;height:17.67px;"><span>20</span></div>
<div class="ct" style="left:528.00px;top:292.30px;width:32.00px;height:17.67px;"><span>11</span></div>
<div style="left:560.00px;top:292.30px;width:91.35px;height:17.67px;background:#f4f6f9;"></div>
<div style="left:651.35px;top:292.30px;width:91.35px;height:17.67px;background:#e5e8ef;"></div>
<div style="left:742.71px;top:292.30px;width:91.35px;height:17.67px;background:#f4f6f9;"></div>
<div style="left:834.06px;top:292.30px;width:91.35px;height:17.67px;background:#e5e8ef;"></div>
<div style="left:925.41px;top:292.30px;width:91.35px;height:17.67px;background:#f4f6f9;"></div>
<div style="left:1016.77px;top:292.30px;width:91.35px;height:17.67px;background:#e5e8ef;"></div>
<div style="left:1108.12px;top:292.30px;width:91.35px;height:17.67px;background:#f4f6f9;"></div>
<div style="left:1199.47px;top:292.30px;width:91.35px;height:17.67px;background:#e5e8ef;"></div>
<div style="left:1290.83px;top:292.30px;width:91.35px;height:17.67px;background:#f4f6f9;"></div>
<div style="left:1382.18px;top:292.30px;width:91.35px;height:17.67px;background:#e5e8ef;"></div>
<div class="st" style="left:13.00px;top:309.97px;width:47.00px;height:17.67px;background:#fff2cc;color:#5d5536;"><span>Not<br>Started</span></div>
<div class="pr" style="left:60.00px;top:309.97px;width:38.00px;height:17.67px;background:#8497b0;color:#dce3ee;"><span>LOW</span></div>
<div style="left:98.00px;top:309.97px;width:319.00px;height:17.67px;background:#fff;"></div>
<div style="left:322.50px;top:309.97px;width:30.00px;height:17.67px;background:#f6f6f6;"></div>
<div class="nm" style="left:98.00px;top:309.97px;width:69.50px;height:17.67px;"><span>P2 Task 3</span></div>
<div class="ct" style="left:260.00px;top:309.97px;width:31.00px;height:17.67px;"><span>05/05</span></div>
<div class="ct" style="left:291.00px;top:309.97px;width:31.50px;height:17.67px;"><span>06/19</span></div>
<div class="ct" style="left:322.50px;top:309.97px;width:30.00px;height:17.67px;"><span>34</span></div>
<div style="left:417.00px;top:309.97px;width:36.75px;height:17.67px;background:#fff;"></div>
<div class="ct" style="left:417.00px;top:309.97px;width:36.75px;height:17.67px;"><span>0%</span></div>
<div style="left:453.75px;top:309.97px;width:45.75px;height:17.67px;background:#f9f9f9;"></div>
<div style="left:499.50px;top:309.97px;width:60.50px;height:17.67px;background:#f0f0f0;"></div>
<div class="ct" style="left:499.50px;top:309.97px;width:28.50px;height:17.67px;"><span>272</span></div>
<div class="ct" style="left:528.00px;top:309.97px;width:32.00px;height:17.67px;"><span></span></div>
<div style="left:560.00px;top:309.97px;width:91.35px;height:17.67px;background:#f4f6f9;"></div>
<div style="left:651.35px;top:309.97px;width:91.35px;height:17.67px;background:#e5e8ef;"></div>
<div style="left:742.71px;top:309.97px;width:91.35px;height:17.67px;background:#f4f6f9;"></div>
<div style="left:834.06px;top:309.97px;width:91.35px;height:17.67px;background:#e5e8ef;"></div>
<div style="left:925.41px;top:309.97px;width:91.35px;height:17.67px;background:#f4f6f9;"></div>
<div style="left:1016.77px;top:309.97px;width:91.35px;height:17.67px;background:#e5e8ef;"></div>
<div style="left:1108.12px;top:309.97px;width:91.35px;height:17.67px;background:#f4f6f9;"></div>
<div style="left:1199.47px;top:309.97px;width:91.35px;height:17.67px;background:#e5e8ef;"></div>
<div style="left:1290.83px;top:309.97px;width:91.35px;height:17.67px;background:#f4f6f9;"></div>
<div style="left:1382.18px;top:309.97px;width:91.35px;height:17.67px;background:#e5e8ef;"></div>
<div class="st" style="left:13.00px;top:327.64px;width:47.00px;height:17.67px;background:#fff2cc;color:#5d5536;"><span>Not<br>Started</span></div>
<div class="pr" style="left:60.00px;top:327.64px;width:38.00px;height:17.67px;background:#8497b0;color:#dce3ee;"><span>LOW</span></div>
<div style="left:98.00px;top:327.64px;width:319.00px;height:17.67px;background:#fff;"></div>
<div style="left:322.50px;top:327.64px;width:30.00px;height:17.67px;background:#f6f6f6;"></div>
<div class="nm" style="left:98.00px;top:327.64px;width:69.50px;height:17.67px;"><span>P2 Task 4</span></div>
<div class="ct" style="left:260.00px;top:327.64px;width:31.00px;height:17.67px;"><span>05/06</span></div>
<div class="ct" style="left:291.00px;top:327.64px;width:31.50px;height:17.67px;"><span>06/03</span></div>
<div class="ct" style="left:322.50px;top:327.64px;width:30.00px;height:17.67px;"><span>21</span></div>
<div style="left:417.00px;top:327.64px;width:36.75px;height:17.67px;background:#fff;"></div>
<div class="ct" style="left:417.00px;top:327.64px;width:36.75px;height:17.67px;"><span>0%</span></div>
<div style="left:453.75px;top:327.64px;width:45.75px;height:17.67px;background:#f9f9f9;"></div>
<div style="left:499.50px;top:327.64px;width:60.50px;height:17.67px;background:#f0f0f0;"></div>
<div class="ct" style="left:499.50px;top:327.64px;width:28.50px;height:17.67px;"><span>150</span></div>
<div class="ct" style="left:528.00px;top:327.64px;width:32.00px;height:17.67px;"><span></span></div>
<div style="left:560.00px;top:327.64px;width:91.35px;height:17.67px;background:#f4f6f9;"></div>
<div style="left:651.35px;top:327.64px;width:91.35px;height:17.67px;background:#e5e8ef;"></div>
<div style="left:742.71px;top:327.64px;width:91.35px;height:17.67px;background:#f4f6f9;"></div>
<div style="left:834.06px;top:327.64px;width:91.35px;height:17.67px;background:#e5e8ef;"></div>
<div style="left:925.41px;top:327.64px;width:91.35px;height:17.67px;background:#f4f6f9;"></div>
<div style="left:1016.77px;top:327.64px;width:91.35px;height:17.67px;background:#e5e8ef;"></div>
<div style="left:1108.12px;top:327.64px;width:91.35px;height:17.67px;background:#f4f6f9;"></div>
<div style="left:1199.47px;top:327.64px;width:91.35px;height:17.67px;background:#e5e8ef;"></div>
<div style="left:1290.83px;top:327.64px;width:91.35px;height:17.67px;background:#f4f6f9;"></div>
<div style="left:1382.18px;top:327.64px;width:91.35px;height:17.67px;background:#e5e8ef;"></div>
<div class="st" style="left:13.00px;top:345.30px;width:47.00px;height:17.67px;background:#ffd966;color:#5a4a10;"><span>Overdue</span></div>
<div class="pr" style="left:60.00px;top:345.30px;width:38.00px;height:17.67px;background:#8497b0;color:#dce3ee;"><span>LOW</span></div>
<div style="left:98.00px;top:345.30px;width:319.00px;height:17.67px;background:#d5dae2;"></div>
<div class="nm b" style="left:98.00px;top:345.30px;width:69.50px;height:17.67px;font-weight:bold;color:#111;"><span>PROJECT 3</span></div>
<div class="ct" style="left:260.00px;top:345.30px;width:31.00px;height:17.67px;font-weight:bold;color:#111;"><span>04/14</span></div>
<div class="ct" style="left:291.00px;top:345.30px;width:31.50px;height:17.67px;font-weight:bold;color:#111;"><span>04/25</span></div>
<div class="ct" style="left:322.50px;top:345.30px;width:30.00px;height:17.67px;font-weight:bold;color:#111;"><span>10</span></div>
<div style="left:417.00px;top:345.30px;width:36.75px;height:17.67px;background:#d5dae2;"></div>
<div style="left:417.50px;top:345.80px;width:35.75px;height:16.67px;background:linear-gradient(90deg,#00b050,#c4eed6);"></div>
<div class="ct" style="left:417.00px;top:345.30px;width:36.75px;height:17.67px;font-weight:bold;color:#111;"><span>74%</span></div>
<div style="left:453.75px;top:345.30px;width:45.75px;height:17.67px;background:#d9d9d9;"></div>
<div style="left:499.50px;top:345.30px;width:60.50px;height:17.67px;background:#d9d9d9;"></div>
<div class="cs" style="left:453.75px;top:345.30px;width:45.75px;height:17.67px;font-weight:bold;color:#111;"><span class="d">$</span><span class="v">8,350.00</span></div>
<div class="ct" style="left:499.50px;top:345.30px;width:28.50px;height:17.67px;font-weight:bold;color:#111;"><span>112</span></div>
<div class="ct" style="left:528.00px;top:345.30px;width:32.00px;height:17.67px;font-weight:bold;color:#111;"><span>99</span></div>
<div style="left:560.00px;top:345.30px;width:91.35px;height:17.67px;background:#d6dae1;"></div>
<div style="left:651.35px;top:345.30px;width:91.35px;height:17.67px;background:#cfd3dc;"></div>
<div style="left:742.71px;top:345.30px;width:91.35px;height:17.67px;background:#d6dae1;"></div>
<div style="left:834.06px;top:345.30px;width:91.35px;height:17.67px;background:#cfd3dc;"></div>
<div style="left:925.41px;top:345.30px;width:91.35px;height:17.67px;background:#d6dae1;"></div>
<div style="left:1016.77px;top:345.30px;width:91.35px;height:17.67px;background:#cfd3dc;"></div>
<div style="left:1108.12px;top:345.30px;width:91.35px;height:17.67px;background:#d6dae1;"></div>
<div style="left:1199.47px;top:345.30px;width:91.35px;height:17.67px;background:#cfd3dc;"></div>
<div style="left:1290.83px;top:345.30px;width:91.35px;height:17.67px;background:#d6dae1;"></div>
<div style="left:1382.18px;top:345.30px;width:91.35px;height:17.67px;background:#cfd3dc;"></div>
<div class="st" style="left:13.00px;top:362.97px;width:47.00px;height:17.67px;background:#dbdbdb;color:#444;"><span>On Hold</span></div>
<div class="pr" style="left:60.00px;top:362.97px;width:38.00px;height:17.67px;background:#44546a;color:#e4e8ef;"><span>MED</span></div>
<div style="left:98.00px;top:362.97px;width:319.00px;height:17.67px;background:#fff;"></div>
<div style="left:322.50px;top:362.97px;width:30.00px;height:17.67px;background:#f6f6f6;"></div>
<div class="nm" style="left:98.00px;top:362.97px;width:69.50px;height:17.67px;"><span>P3 Task 1</span></div>
<div class="ct" style="left:260.00px;top:362.97px;width:31.00px;height:17.67px;"><span>04/14</span></div>
<div class="ct" style="left:291.00px;top:362.97px;width:31.50px;height:17.67px;"><span>04/18</span></div>
<div class="ct" style="left:322.50px;top:362.97px;width:30.00px;height:17.67px;"><span>5</span></div>
<div style="left:417.00px;top:362.97px;width:36.75px;height:17.67px;background:#fff;"></div>
<div style="left:417.50px;top:363.47px;width:11.80px;height:16.67px;background:linear-gradient(90deg,#92d050,#e6f6d6);"></div>
<div class="ct" style="left:417.00px;top:362.97px;width:36.75px;height:17.67px;"><span>33%</span></div>
<div style="left:453.75px;top:362.97px;width:45.75px;height:17.67px;background:#f9f9f9;"></div>
<div style="left:499.50px;top:362.97px;width:60.50px;height:17.67px;background:#f0f0f0;"></div>
<div class="cs" style="left:453.75px;top:362.97px;width:45.75px;height:17.67px;"><span class="d">$</span><span class="v">6,800.00</span></div>
<div class="ct" style="left:499.50px;top:362.97px;width:28.50px;height:17.67px;"><span>40</span></div>
<div class="ct" style="left:528.00px;top:362.97px;width:32.00px;height:17.67px;"><span>36</span></div>
<div style="left:560.00px;top:362.97px;width:91.35px;height:17.67px;background:#f4f6f9;"></div>
<div style="left:651.35px;top:362.97px;width:91.35px;height:17.67px;background:#e5e8ef;"></div>
<div style="left:742.71px;top:362.97px;width:91.35px;height:17.67px;background:#f4f6f9;"></div>
<div style="left:834.06px;top:362.97px;width:91.35px;height:17.67px;background:#e5e8ef;"></div>
<div style="left:925.41px;top:362.97px;width:91.35px;height:17.67px;background:#f4f6f9;"></div>
<div style="left:1016.77px;top:362.97px;width:91.35px;height:17.67px;background:#e5e8ef;"></div>
<div style="left:1108.12px;top:362.97px;width:91.35px;height:17.67px;background:#f4f6f9;"></div>
<div style="left:1199.47px;top:362.97px;width:91.35px;height:17.67px;background:#e5e8ef;"></div>
<div style="left:1290.83px;top:362.97px;width:91.35px;height:17.67px;background:#f4f6f9;"></div>
<div style="left:1382.18px;top:362.97px;width:91.35px;height:17.67px;background:#e5e8ef;"></div>
<div class="st" style="left:13.00px;top:380.64px;width:47.00px;height:17.67px;background:#00b050;color:#0b5a2b;"><span>Complete</span></div>
<div class="pr" style="left:60.00px;top:380.64px;width:38.00px;height:17.67px;background:#222b36;color:#dfe3ea;"><span>HIGH</span></div>
<div style="left:98.00px;top:380.64px;width:319.00px;height:17.67px;background:#fff;"></div>
<div style="left:322.50px;top:380.64px;width:30.00px;height:17.67px;background:#f6f6f6;"></div>
<div class="nm" style="left:98.00px;top:380.64px;width:69.50px;height:17.67px;"><span>P3 Task 2</span></div>
<div class="ct" style="left:260.00px;top:380.64px;width:31.00px;height:17.67px;"><span>04/15</span></div>
<div class="ct" style="left:291.00px;top:380.64px;width:31.50px;height:17.67px;"><span>04/16</span></div>
<div class="ct" style="left:322.50px;top:380.64px;width:30.00px;height:17.67px;"><span>2</span></div>
<div style="left:417.00px;top:380.64px;width:36.75px;height:17.67px;background:#fff;"></div>
<div style="left:417.50px;top:381.14px;width:35.75px;height:16.67px;background:linear-gradient(90deg,#92d050,#e6f6d6);"></div>
<div class="ct" style="left:417.00px;top:380.64px;width:36.75px;height:17.67px;"><span>100%</span></div>
<div style="left:453.75px;top:380.64px;width:45.75px;height:17.67px;background:#f9f9f9;"></div>
<div style="left:499.50px;top:380.64px;width:60.50px;height:17.67px;background:#f0f0f0;"></div>
<div class="ct" style="left:499.50px;top:380.64px;width:28.50px;height:17.67px;"><span>16</span></div>
<div class="ct" style="left:528.00px;top:380.64px;width:32.00px;height:17.67px;"><span>12</span></div>
<div style="left:560.00px;top:380.64px;width:91.35px;height:17.67px;background:#f4f6f9;"></div>
<div style="left:651.35px;top:380.64px;width:91.35px;height:17.67px;background:#e5e8ef;"></div>
<div style="left:742.71px;top:380.64px;width:91.35px;height:17.67px;background:#f4f6f9;"></div>
<div style="left:834.06px;top:380.64px;width:91.35px;height:17.67px;background:#e5e8ef;"></div>
<div style="left:925.41px;top:380.64px;width:91.35px;height:17.67px;background:#f4f6f9;"></div>
<div style="left:1016.77px;top:380.64px;width:91.35px;height:17.67px;background:#e5e8ef;"></div>
<div style="left:1108.12px;top:380.64px;width:91.35px;height:17.67px;background:#f4f6f9;"></div>
<div style="left:1199.47px;top:380.64px;width:91.35px;height:17.67px;background:#e5e8ef;"></div>
<div style="left:1290.83px;top:380.64px;width:91.35px;height:17.67px;background:#f4f6f9;"></div>
<div style="left:1382.18px;top:380.64px;width:91.35px;height:17.67px;background:#e5e8ef;"></div>
<div class="st" style="left:13.00px;top:398.31px;width:47.00px;height:17.67px;background:#92d050;color:#1f5f12;"><span>In Progress</span></div>
<div class="pr" style="left:60.00px;top:398.31px;width:38.00px;height:17.67px;background:#8497b0;color:#dce3ee;"><span>LOW</span></div>
<div style="left:98.00px;top:398.31px;width:319.00px;height:17.67px;background:#fff;"></div>
<div style="left:322.50px;top:398.31px;width:30.00px;height:17.67px;background:#f6f6f6;"></div>
<div class="nm" style="left:98.00px;top:398.31px;width:69.50px;height:17.67px;"><span>P3 Task 3</span></div>
<div class="ct" style="left:260.00px;top:398.31px;width:31.00px;height:17.67px;"><span>04/17</span></div>
<div class="ct" style="left:291.00px;top:398.31px;width:31.50px;height:17.67px;"><span>04/17</span></div>
<div class="ct" style="left:322.50px;top:398.31px;width:30.00px;height:17.67px;"><span>1</span></div>
<div style="left:417.00px;top:398.31px;width:36.75px;height:17.67px;background:#fff;"></div>
<div style="left:417.50px;top:398.81px;width:32.18px;height:16.67px;background:linear-gradient(90deg,#92d050,#e6f6d6);"></div>
<div class="ct" style="left:417.00px;top:398.31px;width:36.75px;height:17.67px;"><span>90%</span></div>
<div style="left:453.75px;top:398.31px;width:45.75px;height:17.67px;background:#f9f9f9;"></div>
<div style="left:499.50px;top:398.31px;width:60.50px;height:17.67px;background:#f0f0f0;"></div>
<div class="ct" style="left:499.50px;top:398.31px;width:28.50px;height:17.67px;"><span>8</span></div>
<div class="ct" style="left:528.00px;top:398.31px;width:32.00px;height:17.67px;"><span>8</span></div>
<div style="left:560.00px;top:398.31px;width:91.35px;height:17.67px;background:#f4f6f9;"></div>
<div style="left:651.35px;top:398.31px;width:91.35px;height:17.67px;background:#e5e8ef;"></div>
<div style="left:742.71px;top:398.31px;width:91.35px;height:17.67px;background:#f4f6f9;"></div>
<div style="left:834.06px;top:398.31px;width:91.35px;height:17.67px;background:#e5e8ef;"></div>
<div style="left:925.41px;top:398.31px;width:91.35px;height:17.67px;background:#f4f6f9;"></div>
<div style="left:1016.77px;top:398.31px;width:91.35px;height:17.67px;background:#e5e8ef;"></div>
<div style="left:1108.12px;top:398.31px;width:91.35px;height:17.67px;background:#f4f6f9;"></div>
<div style="left:1199.47px;top:398.31px;width:91.35px;height:17.67px;background:#e5e8ef;"></div>
<div style="left:1290.83px;top:398.31px;width:91.35px;height:17.67px;background:#f4f6f9;"></div>
<div style="left:1382.18px;top:398.31px;width:91.35px;height:17.67px;background:#e5e8ef;"></div>
<div class="st" style="left:13.00px;top:415.97px;width:47.00px;height:17.67px;background:#ffd966;color:#5a4a10;"><span>Overdue</span></div>
<div class="pr" style="left:60.00px;top:415.97px;width:38.00px;height:17.67px;background:#8497b0;color:#dce3ee;"><span>LOW</span></div>
<div style="left:98.00px;top:415.97px;width:319.00px;height:17.67px;background:#fff;"></div>
<div style="left:322.50px;top:415.97px;width:30.00px;height:17.67px;background:#f6f6f6;"></div>
<div class="nm" style="left:98.00px;top:415.97px;width:69.50px;height:17.67px;"><span>P3 Task 4</span></div>
<div class="ct" style="left:260.00px;top:415.97px;width:31.00px;height:17.67px;"><span>04/21</span></div>
<div class="ct" style="left:291.00px;top:415.97px;width:31.50px;height:17.67px;"><span>04/24</span></div>
<div class="ct" style="left:322.50px;top:415.97px;width:30.00px;height:17.67px;"><span>4</span></div>
<div style="left:417.00px;top:415.97px;width:36.75px;height:17.67px;background:#fff;"></div>
<div style="left:417.50px;top:416.47px;width:11.80px;height:16.67px;background:linear-gradient(90deg,#92d050,#e6f6d6);"></div>
<div class="ct" style="left:417.00px;top:415.97px;width:36.75px;height:17.67px;"><span>33%</span></div>
<div style="left:453.75px;top:415.97px;width:45.75px;height:17.67px;background:#f9f9f9;"></div>
<div style="left:499.50px;top:415.97px;width:60.50px;height:17.67px;background:#f0f0f0;"></div>
<div class="ct" style="left:499.50px;top:415.97px;width:28.50px;height:17.67px;"><span>32</span></div>
<div class="ct" style="left:528.00px;top:415.97px;width:32.00px;height:17.67px;"><span>25</span></div>
<div style="left:560.00px;top:415.97px;width:91.35px;height:17.67px;background:#f4f6f9;"></div>
<div style="left:651.35px;top:415.97px;width:91.35px;height:17.67px;background:#e5e8ef;"></div>
<div style="left:742.71px;top:415.97px;width:91.35px;height:17.67px;background:#f4f6f9;"></div>
<div style="left:834.06px;top:415.97px;width:91.35px;height:17.67px;background:#e5e8ef;"></div>
<div style="left:925.41px;top:415.97px;width:91.35px;height:17.67px;background:#f4f6f9;"></div>
<div style="left:1016.77px;top:415.97px;width:91.35px;height:17.67px;background:#e5e8ef;"></div>
<div style="left:1108.12px;top:415.97px;width:91.35px;height:17.67px;background:#f4f6f9;"></div>
<div style="left:1199.47px;top:415.97px;width:91.35px;height:17.67px;background:#e5e8ef;"></div>
<div style="left:1290.83px;top:415.97px;width:91.35px;height:17.67px;background:#f4f6f9;"></div>
<div style="left:1382.18px;top:415.97px;width:91.35px;height:17.67px;background:#e5e8ef;"></div>
<div class="st" style="left:13.00px;top:433.64px;width:47.00px;height:17.67px;background:#00b050;color:#0b5a2b;"><span>Complete</span></div>
<div class="pr" style="left:60.00px;top:433.64px;width:38.00px;height:17.67px;background:#8497b0;color:#dce3ee;"><span>LOW</span></div>
<div style="left:98.00px;top:433.64px;width:319.00px;height:17.67px;background:#fff;"></div>
<div style="left:322.50px;top:433.64px;width:30.00px;height:17.67px;background:#f6f6f6;"></div>
<div class="nm" style="left:98.00px;top:433.64px;width:69.50px;height:17.67px;"><span>P3 Task 5</span></div>
<div class="ct" style="left:260.00px;top:433.64px;width:31.00px;height:17.67px;"><span>04/22</span></div>
<div class="ct" style="left:291.00px;top:433.64px;width:31.50px;height:17.67px;"><span>04/23</span></div>
<div class="ct" style="left:322.50px;top:433.64px;width:30.00px;height:17.67px;"><span>2</span></div>
<div style="left:417.00px;top:433.64px;width:36.75px;height:17.67px;background:#fff;"></div>
<div style="left:417.50px;top:434.14px;width:35.75px;height:16.67px;background:linear-gradient(90deg,#92d050,#e6f6d6);"></div>
<div class="ct" style="left:417.00px;top:433.64px;width:36.75px;height:17.67px;"><span>100%</span></div>
<div style="left:453.75px;top:433.64px;width:45.75px;height:17.67px;background:#f9f9f9;"></div>
<div style="left:499.50px;top:433.64px;width:60.50px;height:17.67px;background:#f0f0f0;"></div>
<div class="cs" style="left:453.75px;top:433.64px;width:45.75px;height:17.67px;"><span class="d">$</span><span class="v">1,550.00</span></div>
<div class="ct" style="left:499.50px;top:433.64px;width:28.50px;height:17.67px;"><span>14</span></div>
<div class="ct" style="left:528.00px;top:433.64px;width:32.00px;height:17.67px;"><span>16</span></div>
<div style="left:560.00px;top:433.64px;width:91.35px;height:17.67px;background:#f4f6f9;"></div>
<div style="left:651.35px;top:433.64px;width:91.35px;height:17.67px;background:#e5e8ef;"></div>
<div style="left:742.71px;top:433.64px;width:91.35px;height:17.67px;background:#f4f6f9;"></div>
<div style="left:834.06px;top:433.64px;width:91.35px;height:17.67px;background:#e5e8ef;"></div>
<div style="left:925.41px;top:433.64px;width:91.35px;height:17.67px;background:#f4f6f9;"></div>
<div style="left:1016.77px;top:433.64px;width:91.35px;height:17.67px;background:#e5e8ef;"></div>
<div style="left:1108.12px;top:433.64px;width:91.35px;height:17.67px;background:#f4f6f9;"></div>
<div style="left:1199.47px;top:433.64px;width:91.35px;height:17.67px;background:#e5e8ef;"></div>
<div style="left:1290.83px;top:433.64px;width:91.35px;height:17.67px;background:#f4f6f9;"></div>
<div style="left:1382.18px;top:433.64px;width:91.35px;height:17.67px;background:#e5e8ef;"></div>
<div class="st" style="left:13.00px;top:451.31px;width:47.00px;height:17.67px;background:#bdf5ee;color:#2c5f5b;"><span>Needs<br>Review</span></div>
<div class="pr" style="left:60.00px;top:451.31px;width:38.00px;height:17.67px;background:#44546a;color:#e4e8ef;"><span>MED</span></div>
<div style="left:98.00px;top:451.31px;width:319.00px;height:17.67px;background:#fff;"></div>
<div style="left:322.50px;top:451.31px;width:30.00px;height:17.67px;background:#f6f6f6;"></div>
<div class="nm" style="left:98.00px;top:451.31px;width:69.50px;height:17.67px;"><span>P3 Task 6</span></div>
<div class="ct" style="left:260.00px;top:451.31px;width:31.00px;height:17.67px;"><span>04/25</span></div>
<div class="ct" style="left:291.00px;top:451.31px;width:31.50px;height:17.67px;"><span>04/25</span></div>
<div class="ct" style="left:322.50px;top:451.31px;width:30.00px;height:17.67px;"><span>1</span></div>
<div style="left:417.00px;top:451.31px;width:36.75px;height:17.67px;background:#fff;"></div>
<div style="left:417.50px;top:451.81px;width:32.18px;height:16.67px;background:linear-gradient(90deg,#92d050,#e6f6d6);"></div>
<div class="ct" style="left:417.00px;top:451.31px;width:36.75px;height:17.67px;"><span>90%</span></div>
<div style="left:453.75px;top:451.31px;width:45.75px;height:17.67px;background:#f9f9f9;"></div>
<div style="left:499.50px;top:451.31px;width:60.50px;height:17.67px;background:#f0f0f0;"></div>
<div class="ct" style="left:499.50px;top:451.31px;width:28.50px;height:17.67px;"><span>2</span></div>
<div class="ct" style="left:528.00px;top:451.31px;width:32.00px;height:17.67px;"><span>2</span></div>
<div style="left:560.00px;top:451.31px;width:91.35px;height:17.67px;background:#f4f6f9;"></div>
<div style="left:651.35px;top:451.31px;width:91.35px;height:17.67px;background:#e5e8ef;"></div>
<div style="left:742.71px;top:451.31px;width:91.35px;height:17.67px;background:#f4f6f9;"></div>
<div style="left:834.06px;top:451.31px;width:91.35px;height:17.67px;background:#e5e8ef;"></div>
<div style="left:925.41px;top:451.31px;width:91.35px;height:17.67px;background:#f4f6f9;"></div>
<div style="left:1016.77px;top:451.31px;width:91.35px;height:17.67px;background:#e5e8ef;"></div>
<div style="left:1108.12px;top:451.31px;width:91.35px;height:17.67px;background:#f4f6f9;"></div>
<div style="left:1199.47px;top:451.31px;width:91.35px;height:17.67px;background:#e5e8ef;"></div>
<div style="left:1290.83px;top:451.31px;width:91.35px;height:17.67px;background:#f4f6f9;"></div>
<div style="left:1382.18px;top:451.31px;width:91.35px;height:17.67px;background:#e5e8ef;"></div>
<div style="left:98.00px;top:132.80px;width:462.00px;height:1.00px;background:#e2e2e2;"></div>
<div class="gl" style="left:560.00px;top:132.80px;width:913.53px;height:1.00px;background:#dde0e6;"></div>
<div style="left:98.00px;top:150.47px;width:462.00px;height:1.00px;background:#e2e2e2;"></div>
<div class="gl" style="left:560.00px;top:150.47px;width:913.53px;height:1.00px;background:#dde0e6;"></div>
<div style="left:98.00px;top:168.13px;width:462.00px;height:1.00px;background:#e2e2e2;"></div>
<div class="gl" style="left:560.00px;top:168.13px;width:913.53px;height:1.00px;background:#dde0e6;"></div>
<div style="left:98.00px;top:185.80px;width:462.00px;height:1.00px;background:#e2e2e2;"></div>
<div class="gl" style="left:560.00px;top:185.80px;width:913.53px;height:1.00px;background:#dde0e6;"></div>
<div style="left:98.00px;top:203.47px;width:462.00px;height:1.00px;background:#e2e2e2;"></div>
<div class="gl" style="left:560.00px;top:203.47px;width:913.53px;height:1.00px;background:#dde0e6;"></div>
<div style="left:98.00px;top:221.14px;width:462.00px;height:1.00px;background:#e2e2e2;"></div>
<div class="gl" style="left:560.00px;top:221.14px;width:913.53px;height:1.00px;background:#dde0e6;"></div>
<div style="left:98.00px;top:238.80px;width:462.00px;height:1.00px;background:#e2e2e2;"></div>
<div class="gl" style="left:560.00px;top:238.80px;width:913.53px;height:1.00px;background:#dde0e6;"></div>
<div style="left:98.00px;top:256.47px;width:462.00px;height:1.00px;background:#e2e2e2;"></div>
<div class="gl" style="left:560.00px;top:256.47px;width:913.53px;height:1.00px;background:#dde0e6;"></div>
<div style="left:98.00px;top:274.14px;width:462.00px;height:1.00px;background:#e2e2e2;"></div>
<div class="gl" style="left:560.00px;top:274.14px;width:913.53px;height:1.00px;background:#dde0e6;"></div>
<div style="left:98.00px;top:291.80px;width:462.00px;height:1.00px;background:#e2e2e2;"></div>
<div class="gl" style="left:560.00px;top:291.80px;width:913.53px;height:1.00px;background:#dde0e6;"></div>
<div style="left:98.00px;top:309.47px;width:462.00px;height:1.00px;background:#e2e2e2;"></div>
<div class="gl" style="left:560.00px;top:309.47px;width:913.53px;height:1.00px;background:#dde0e6;"></div>
<div style="left:98.00px;top:327.14px;width:462.00px;height:1.00px;background:#e2e2e2;"></div>
<div class="gl" style="left:560.00px;top:327.14px;width:913.53px;height:1.00px;background:#dde0e6;"></div>
<div style="left:98.00px;top:344.80px;width:462.00px;height:1.00px;background:#e2e2e2;"></div>
<div class="gl" style="left:560.00px;top:344.80px;width:913.53px;height:1.00px;background:#dde0e6;"></div>
<div style="left:98.00px;top:362.47px;width:462.00px;height:1.00px;background:#e2e2e2;"></div>
<div class="gl" style="left:560.00px;top:362.47px;width:913.53px;height:1.00px;background:#dde0e6;"></div>
<div style="left:98.00px;top:380.14px;width:462.00px;height:1.00px;background:#e2e2e2;"></div>
<div class="gl" style="left:560.00px;top:380.14px;width:913.53px;height:1.00px;background:#dde0e6;"></div>
<div style="left:98.00px;top:397.81px;width:462.00px;height:1.00px;background:#e2e2e2;"></div>
<div class="gl" style="left:560.00px;top:397.81px;width:913.53px;height:1.00px;background:#dde0e6;"></div>
<div style="left:98.00px;top:415.47px;width:462.00px;height:1.00px;background:#e2e2e2;"></div>
<div class="gl" style="left:560.00px;top:415.47px;width:913.53px;height:1.00px;background:#dde0e6;"></div>
<div style="left:98.00px;top:433.14px;width:462.00px;height:1.00px;background:#e2e2e2;"></div>
<div class="gl" style="left:560.00px;top:433.14px;width:913.53px;height:1.00px;background:#dde0e6;"></div>
<div style="left:98.00px;top:450.81px;width:462.00px;height:1.00px;background:#e2e2e2;"></div>
<div class="gl" style="left:560.00px;top:450.81px;width:913.53px;height:1.00px;background:#dde0e6;"></div>
<div style="left:98.00px;top:468.47px;width:462.00px;height:1.00px;background:#e2e2e2;"></div>
<div class="gl" style="left:560.00px;top:468.47px;width:913.53px;height:1.00px;background:#dde0e6;"></div>
<div style="left:97.50px;top:111.00px;width:1.00px;height:357.97px;background:#d8d8d8;"></div>
<div style="left:167.00px;top:111.00px;width:1.00px;height:357.97px;background:#d8d8d8;"></div>
<div style="left:222.00px;top:111.00px;width:1.00px;height:357.97px;background:#d8d8d8;"></div>
<div style="left:259.50px;top:111.00px;width:1.00px;height:357.97px;background:#c8c8c8;"></div>
<div style="left:290.50px;top:111.00px;width:1.00px;height:357.97px;background:#e2e2e2;"></div>
<div style="left:322.00px;top:111.00px;width:1.00px;height:357.97px;background:#e2e2e2;"></div>
<div style="left:352.00px;top:111.00px;width:1.00px;height:357.97px;background:#a2a2a2;"></div>
<div style="left:416.50px;top:111.00px;width:1.00px;height:357.97px;background:#d2d2d2;"></div>
<div style="left:453.25px;top:111.00px;width:1.00px;height:357.97px;background:#a6a6a6;"></div>
<div style="left:499.00px;top:111.00px;width:1.00px;height:357.97px;background:#d6d6d6;"></div>
<div style="left:527.50px;top:111.00px;width:1.00px;height:357.97px;background:#d6d6d6;"></div>
<div style="left:559.50px;top:111.00px;width:1.00px;height:357.97px;background:#a6a6a6;"></div>
<div style="left:59.50px;top:111.00px;width:1.00px;height:22.30px;background:#bdbdbd;"></div>
<div style="left:12.50px;top:111.00px;width:1.00px;height:357.97px;background:#cfcfcf;"></div>
<div style="left:13.00px;top:468.47px;width:85.00px;height:1.00px;background:#cfcfcf;"></div>
<div class="wk" style="left:560.00px;top:98.00px;width:91.35px;height:13.00px;background:#f6f6f8;"><span>Wk 1</span></div>
<div style="left:560.00px;top:111.00px;width:91.35px;height:22.30px;background:#f6f6f8;"></div>
<div class="wk" style="left:651.35px;top:98.00px;width:91.35px;height:13.00px;background:#e9ebf2;"><span>Wk 2</span></div>
<div style="left:651.35px;top:111.00px;width:91.35px;height:22.30px;background:#e9ebf2;"></div>
<div class="wk" style="left:742.71px;top:98.00px;width:91.35px;height:13.00px;background:#f6f6f8;"><span>Wk 3</span></div>
<div style="left:742.71px;top:111.00px;width:91.35px;height:22.30px;background:#f6f6f8;"></div>
<div class="wk" style="left:834.06px;top:98.00px;width:91.35px;height:13.00px;background:#e9ebf2;"><span>Wk 4</span></div>
<div style="left:834.06px;top:111.00px;width:91.35px;height:22.30px;background:#e9ebf2;"></div>
<div class="wk" style="left:925.41px;top:98.00px;width:91.35px;height:13.00px;background:#f6f6f8;"><span>Wk 5</span></div>
<div style="left:925.41px;top:111.00px;width:91.35px;height:22.30px;background:#f6f6f8;"></div>
<div class="wk" style="left:1016.77px;top:98.00px;width:91.35px;height:13.00px;background:#e9ebf2;"><span>Wk 6</span></div>
<div style="left:1016.77px;top:111.00px;width:91.35px;height:22.30px;background:#e9ebf2;"></div>
<div class="wk" style="left:1108.12px;top:98.00px;width:91.35px;height:13.00px;background:#f6f6f8;"><span>Wk 7</span></div>
<div style="left:1108.12px;top:111.00px;width:91.35px;height:22.30px;background:#f6f6f8;"></div>
<div class="wk" style="left:1199.47px;top:98.00px;width:91.35px;height:13.00px;background:#e9ebf2;"><span>Wk 8</span></div>
<div style="left:1199.47px;top:111.00px;width:91.35px;height:22.30px;background:#e9ebf2;"></div>
<div class="wk" style="left:1290.83px;top:98.00px;width:91.35px;height:13.00px;background:#f6f6f8;"><span>Wk 9</span></div>
<div style="left:1290.83px;top:111.00px;width:91.35px;height:22.30px;background:#f6f6f8;"></div>
<div class="wk" style="left:1382.18px;top:98.00px;width:91.35px;height:13.00px;background:#e9ebf2;"><span>Wk 10</span></div>
<div style="left:1382.18px;top:111.00px;width:91.35px;height:22.30px;background:#e9ebf2;"></div>
<div class="dy" style="left:560.00px;top:111.00px;width:18.27px;height:22.30px;background:linear-gradient(90deg,#fefefe,#f0f0f3);"><span>3/31</span></div>
<div class="dy" style="left:578.27px;top:111.00px;width:18.27px;height:22.30px;background:linear-gradient(90deg,#fefefe,#f0f0f3);"><span>4/1</span></div>
<div class="dy" style="left:596.54px;top:111.00px;width:18.27px;height:22.30px;background:linear-gradient(90deg,#fefefe,#f0f0f3);"><span>4/2</span></div>
<div class="dy" style="left:614.81px;top:111.00px;width:18.27px;height:22.30px;background:linear-gradient(90deg,#fefefe,#f0f0f3);"><span>4/3</span></div>
<div class="dy" style="left:633.08px;top:111.00px;width:18.27px;height:22.30px;background:linear-gradient(90deg,#fefefe,#f0f0f3);"><span>4/4</span></div>
<div class="dy" style="left:651.35px;top:111.00px;width:18.27px;height:22.30px;background:linear-gradient(90deg,#eceef5,#e4e6ee);"><span>4/7</span></div>
<div class="dy" style="left:669.62px;top:111.00px;width:18.27px;height:22.30px;background:linear-gradient(90deg,#eceef5,#e4e6ee);"><span>4/8</span></div>
<div class="dy" style="left:687.89px;top:111.00px;width:18.27px;height:22.30px;background:linear-gradient(90deg,#eceef5,#e4e6ee);"><span>4/9</span></div>
<div class="dy" style="left:706.17px;top:111.00px;width:18.27px;height:22.30px;background:linear-gradient(90deg,#eceef5,#e4e6ee);"><span>4/10</span></div>
<div class="dy" style="left:724.44px;top:111.00px;width:18.27px;height:22.30px;background:linear-gradient(90deg,#eceef5,#e4e6ee);"><span>4/11</span></div>
<div class="dy" style="left:742.71px;top:111.00px;width:18.27px;height:22.30px;background:linear-gradient(90deg,#fefefe,#f0f0f3);"><span>4/14</span></div>
<div class="dy" style="left:760.98px;top:111.00px;width:18.27px;height:22.30px;background:linear-gradient(90deg,#fefefe,#f0f0f3);"><span>4/15</span></div>
<div class="dy" style="left:779.25px;top:111.00px;width:18.27px;height:22.30px;background:linear-gradient(90deg,#fefefe,#f0f0f3);"><span>4/16</span></div>
<div class="dy" style="left:797.52px;top:111.00px;width:18.27px;height:22.30px;background:linear-gradient(90deg,#fefefe,#f0f0f3);"><span>4/17</span></div>
<div class="dy" style="left:815.79px;top:111.00px;width:18.27px;height:22.30px;background:linear-gradient(90deg,#fefefe,#f0f0f3);"><span>4/18</span></div>
<div class="dy" style="left:834.06px;top:111.00px;width:18.27px;height:22.30px;background:linear-gradient(90deg,#eceef5,#e4e6ee);"><span>4/21</span></div>
<div class="dy" style="left:852.33px;top:111.00px;width:18.27px;height:22.30px;background:linear-gradient(90deg,#eceef5,#e4e6ee);"><span>4/22</span></div>
<div class="dy" style="left:870.60px;top:111.00px;width:18.27px;height:22.30px;background:linear-gradient(90deg,#eceef5,#e4e6ee);"><span>4/23</span></div>
<div class="dy" style="left:888.87px;top:111.00px;width:18.27px;height:22.30px;background:linear-gradient(90deg,#eceef5,#e4e6ee);"><span>4/24</span></div>
<div class="dy" style="left:907.14px;top:111.00px;width:18.27px;height:22.30px;background:linear-gradient(90deg,#eceef5,#e4e6ee);"><span>4/25</span></div>
<div class="dy" style="left:925.41px;top:111.00px;width:18.27px;height:22.30px;background:linear-gradient(90deg,#fefefe,#f0f0f3);"><span>4/28</span></div>
<div class="dy" style="left:943.68px;top:111.00px;width:18.27px;height:22.30px;background:linear-gradient(90deg,#fefefe,#f0f0f3);"><span>4/29</span></div>
<div class="dy" style="left:961.95px;top:111.00px;width:18.27px;height:22.30px;background:linear-gradient(90deg,#fefefe,#f0f0f3);"><span>4/30</span></div>
<div class="dy" style="left:980.23px;top:111.00px;width:18.27px;height:22.30px;background:linear-gradient(90deg,#fefefe,#f0f0f3);"><span>5/1</span></div>
<div class="dy" style="left:998.50px;top:111.00px;width:18.27px;height:22.30px;background:linear-gradient(90deg,#fefefe,#f0f0f3);"><span>5/2</span></div>
<div class="dy" style="left:1016.77px;top:111.00px;width:18.27px;height:22.30px;background:linear-gradient(90deg,#eceef5,#e4e6ee);"><span>5/5</span></div>
<div class="dy" style="left:1035.04px;top:111.00px;width:18.27px;height:22.30px;background:linear-gradient(90deg,#eceef5,#e4e6ee);"><span>5/6</span></div>
<div class="dy" style="left:1053.31px;top:111.00px;width:18.27px;height:22.30px;background:linear-gradient(90deg,#eceef5,#e4e6ee);"><span>5/7</span></div>
<div class="dy" style="left:1071.58px;top:111.00px;width:18.27px;height:22.30px;background:linear-gradient(90deg,#eceef5,#e4e6ee);"><span>5/8</span></div>
<div class="dy" style="left:1089.85px;top:111.00px;width:18.27px;height:22.30px;background:linear-gradient(90deg,#eceef5,#e4e6ee);"><span>5/9</span></div>
<div class="dy" style="left:1108.12px;top:111.00px;width:18.27px;height:22.30px;background:linear-gradient(90deg,#fefefe,#f0f0f3);"><span>5/12</span></div>
<div class="dy" style="left:1126.39px;top:111.00px;width:18.27px;height:22.30px;background:linear-gradient(90deg,#fefefe,#f0f0f3);"><span>5/13</span></div>
<div class="dy" style="left:1144.66px;top:111.00px;width:18.27px;height:22.30px;background:linear-gradient(90deg,#fefefe,#f0f0f3);"><span>5/14</span></div>
<div class="dy" style="left:1162.93px;top:111.00px;width:18.27px;height:22.30px;background:linear-gradient(90deg,#fefefe,#f0f0f3);"><span>5/15</span></div>
<div class="dy" style="left:1181.20px;top:111.00px;width:18.27px;height:22.30px;background:linear-gradient(90deg,#fefefe,#f0f0f3);"><span>5/16</span></div>
<div class="dy" style="left:1199.47px;top:111.00px;width:18.27px;height:22.30px;background:linear-gradient(90deg,#eceef5,#e4e6ee);"><span>5/19</span></div>
<div class="dy" style="left:1217.74px;top:111.00px;width:18.27px;height:22.30px;background:linear-gradient(90deg,#eceef5,#e4e6ee);"><span>5/20</span></div>
<div class="dy" style="left:1236.02px;top:111.00px;width:18.27px;height:22.30px;background:linear-gradient(90deg,#eceef5,#e4e6ee);"><span>5/21</span></div>
<div class="dy" style="left:1254.29px;top:111.00px;width:18.27px;height:22.30px;background:linear-gradient(90deg,#eceef5,#e4e6ee);"><span>5/22</span></div>
<div class="dy" style="left:1272.56px;top:111.00px;width:18.27px;height:22.30px;background:linear-gradient(90deg,#eceef5,#e4e6ee);"><span>5/23</span></div>
<div class="dy" style="left:1290.83px;top:111.00px;width:18.27px;height:22.30px;background:linear-gradient(90deg,#fefefe,#f0f0f3);"><span>5/26</span></div>
<div class="dy" style="left:1309.10px;top:111.00px;width:18.27px;height:22.30px;background:linear-gradient(90deg,#fefefe,#f0f0f3);"><span>5/27</span></div>
<div class="dy" style="left:1327.37px;top:111.00px;width:18.27px;height:22.30px;background:linear-gradient(90deg,#fefefe,#f0f0f3);"><span>5/28</span></div>
<div class="dy" style="left:1345.64px;top:111.00px;width:18.27px;height:22.30px;background:linear-gradient(90deg,#fefefe,#f0f0f3);"><span>5/29</span></div>
<div class="dy" style="left:1363.91px;top:111.00px;width:18.27px;height:22.30px;background:linear-gradient(90deg,#fefefe,#f0f0f3);"><span>5/30</span></div>
<div class="dy" style="left:1382.18px;top:111.00px;width:18.27px;height:22.30px;background:linear-gradient(90deg,#eceef5,#e4e6ee);"><span>6/2</span></div>
<div class="dy" style="left:1400.45px;top:111.00px;width:18.27px;height:22.30px;background:linear-gradient(90deg,#eceef5,#e4e6ee);"><span>6/3</span></div>
<div class="dy" style="left:1418.72px;top:111.00px;width:18.27px;height:22.30px;background:linear-gradient(90deg,#eceef5,#e4e6ee);"><span>6/4</span></div>
<div class="dy" style="left:1436.99px;top:111.00px;width:18.27px;height:22.30px;background:linear-gradient(90deg,#eceef5,#e4e6ee);"><span>6/5</span></div>
<div class="dy" style="left:1455.26px;top:111.00px;width:18.27px;height:22.30px;background:linear-gradient(90deg,#eceef5,#e4e6ee);"><span>6/6</span></div>
<div class="gl" style="left:559.50px;top:98.00px;width:1.00px;height:370.97px;background:#bcc0c9;"></div>
<div class="gl" style="left:577.77px;top:111.00px;width:1.00px;height:357.97px;background:#bcc0c9;"></div>
<div class="gl" style="left:596.04px;top:111.00px;width:1.00px;height:357.97px;background:#bcc0c9;"></div>
<div class="gl" style="left:614.31px;top:111.00px;width:1.00px;height:357.97px;background:#bcc0c9;"></div>
<div class="gl" style="left:632.58px;top:111.00px;width:1.00px;height:357.97px;background:#bcc0c9;"></div>
<div class="gl" style="left:650.85px;top:98.00px;width:1.00px;height:370.97px;background:#bcc0c9;"></div>
<div class="gl" style="left:669.12px;top:111.00px;width:1.00px;height:357.97px;background:#bcc0c9;"></div>
<div class="gl" style="left:687.39px;top:111.00px;width:1.00px;height:357.97px;background:#bcc0c9;"></div>
<div class="gl" style="left:705.67px;top:111.00px;width:1.00px;height:357.97px;background:#bcc0c9;"></div>
<div class="gl" style="left:723.94px;top:111.00px;width:1.00px;height:357.97px;background:#bcc0c9;"></div>
<div class="gl" style="left:742.21px;top:98.00px;width:1.00px;height:370.97px;background:#bcc0c9;"></div>
<div class="gl" style="left:760.48px;top:111.00px;width:1.00px;height:357.97px;background:#bcc0c9;"></div>
<div class="gl" style="left:778.75px;top:111.00px;width:1.00px;height:357.97px;background:#bcc0c9;"></div>
<div class="gl" style="left:797.02px;top:111.00px;width:1.00px;height:357.97px;background:#bcc0c9;"></div>
<div class="gl" style="left:815.29px;top:111.00px;width:1.00px;height:357.97px;background:#bcc0c9;"></div>
<div class="gl" style="left:833.56px;top:98.00px;width:1.00px;height:370.97px;background:#bcc0c9;"></div>
<div class="gl" style="left:851.83px;top:111.00px;width:1.00px;height:357.97px;background:#bcc0c9;"></div>
<div class="gl" style="left:870.10px;top:111.00px;width:1.00px;height:357.97px;background:#bcc0c9;"></div>
<div class="gl" style="left:888.37px;top:111.00px;width:1.00px;height:357.97px;background:#bcc0c9;"></div>
<div class="gl" style="left:906.64px;top:111.00px;width:1.00px;height:357.97px;background:#bcc0c9;"></div>
<div class="gl" style="left:924.91px;top:98.00px;width:1.00px;height:370.97px;background:#bcc0c9;"></div>
<div class="gl" style="left:943.18px;top:111.00px;width:1.00px;height:357.97px;background:#bcc0c9;"></div>
<div class="gl" style="left:961.45px;top:111.00px;width:1.00px;height:357.97px;background:#bcc0c9;"></div>
<div class="gl" style="left:979.73px;top:111.00px;width:1.00px;height:357.97px;background:#bcc0c9;"></div>
<div class="gl" style="left:998.00px;top:111.00px;width:1.00px;height:357.97px;background:#bcc0c9;"></div>
<div class="gl" style="left:1016.27px;top:98.00px;width:1.00px;height:370.97px;background:#bcc0c9;"></div>
<div class="gl" style="left:1034.54px;top:111.00px;width:1.00px;height:357.97px;background:#bcc0c9;"></div>
<div class="gl" style="left:1052.81px;top:111.00px;width:1.00px;height:357.97px;background:#bcc0c9;"></div>
<div class="gl" style="left:1071.08px;top:111.00px;width:1.00px;height:357.97px;background:#bcc0c9;"></div>
<div class="gl" style="left:1089.35px;top:111.00px;width:1.00px;height:357.97px;background:#bcc0c9;"></div>
<div class="gl" style="left:1107.62px;top:98.00px;width:1.00px;height:370.97px;background:#bcc0c9;"></div>
<div class="gl" style="left:1125.89px;top:111.00px;width:1.00px;height:357.97px;background:#bcc0c9;"></div>
<div class="gl" style="left:1144.16px;top:111.00px;width:1.00px;height:357.97px;background:#bcc0c9;"></div>
<div class="gl" style="left:1162.43px;top:111.00px;width:1.00px;height:357.97px;background:#bcc0c9;"></div>
<div class="gl" style="left:1180.70px;top:111.00px;width:1.00px;height:357.97px;background:#bcc0c9;"></div>
<div class="gl" style="left:1198.97px;top:98.00px;width:1.00px;height:370.97px;background:#bcc0c9;"></div>
<div class="gl" style="left:1217.24px;top:111.00px;width:1.00px;height:357.97px;background:#bcc0c9;"></div>
<div class="gl" style="left:1235.52px;top:111.00px;width:1.00px;height:357.97px;background:#bcc0c9;"></div>
<div class="gl" style="left:1253.79px;top:111.00px;width:1.00px;height:357.97px;background:#bcc0c9;"></div>
<div class="gl" style="left:1272.06px;top:111.00px;width:1.00px;height:357.97px;background:#bcc0c9;"></div>
<div class="gl" style="left:1290.33px;top:98.00px;width:1.00px;height:370.97px;background:#bcc0c9;"></div>
<div class="gl" style="left:1308.60px;top:111.00px;width:1.00px;height:357.97px;background:#bcc0c9;"></div>
<div class="gl" style="left:1326.87px;top:111.00px;width:1.00px;height:357.97px;background:#bcc0c9;"></div>
<div class="gl" style="left:1345.14px;top:111.00px;width:1.00px;height:357.97px;background:#bcc0c9;"></div>
<div class="gl" style="left:1363.41px;top:111.00px;width:1.00px;height:357.97px;background:#bcc0c9;"></div>
<div class="gl" style="left:1381.68px;top:98.00px;width:1.00px;height:370.97px;background:#bcc0c9;"></div>
<div class="gl" style="left:1399.95px;top:111.00px;width:1.00px;height:357.97px;background:#bcc0c9;"></div>
<div class="gl" style="left:1418.22px;top:111.00px;width:1.00px;height:357.97px;background:#bcc0c9;"></div>
<div class="gl" style="left:1436.49px;top:111.00px;width:1.00px;height:357.97px;background:#bcc0c9;"></div>
<div class="gl" style="left:1454.76px;top:111.00px;width:1.00px;height:357.97px;background:#bcc0c9;"></div>
<div class="gl" style="left:1473.03px;top:98.00px;width:1.00px;height:370.97px;background:#bcc0c9;"></div>
<div style="left:560.00px;top:97.50px;width:913.53px;height:1.00px;background:#c4c6cc;"></div>
<div style="left:560.00px;top:110.50px;width:913.53px;height:1.00px;background:#c4c6cc;"></div>
<div class="bar" style="left:560.00px;top:133.30px;width:292.33px;height:17.67px;background:#00b050;"></div>
<div class="bar" style="left:560.00px;top:150.97px;width:73.08px;height:17.67px;background:#92d050;"></div>
<div class="bar" style="left:596.54px;top:168.63px;width:237.52px;height:17.67px;background:#92d050;"></div>
<div class="bar" style="left:742.71px;top:186.30px;width:91.35px;height:17.67px;background:#92d050;"></div>
<div class="bar" style="left:614.81px;top:203.97px;width:127.89px;height:17.67px;background:#92d050;"></div>
<div class="bar" style="left:687.89px;top:221.64px;width:146.17px;height:17.67px;background:#92d050;"></div>
<div class="bar" style="left:815.79px;top:239.30px;width:36.54px;height:17.67px;background:#92d050;"></div>
<div class="bar" style="left:852.33px;top:256.97px;width:621.20px;height:17.67px;background:#00b050;"></div>
<div class="bar" style="left:852.33px;top:274.64px;width:621.20px;height:17.67px;background:#92d050;"></div>
<div class="bar" style="left:961.95px;top:292.30px;width:54.81px;height:17.67px;background:#92d050;"></div>
<div class="bar" style="left:1016.77px;top:309.97px;width:456.77px;height:17.67px;background:#92d050;"></div>
<div class="bar" style="left:1035.04px;top:327.64px;width:383.68px;height:17.67px;background:#92d050;"></div>
<div class="bar" style="left:742.71px;top:345.30px;width:182.71px;height:17.67px;background:#00b050;"></div>
<div class="bar" style="left:742.71px;top:362.97px;width:91.35px;height:17.67px;background:#92d050;"></div>
<div class="bar" style="left:760.98px;top:380.64px;width:36.54px;height:17.67px;background:#92d050;"></div>
<div class="bar" style="left:797.52px;top:398.31px;width:18.27px;height:17.67px;background:#92d050;"></div>
<div class="bar" style="left:834.06px;top:415.97px;width:73.08px;height:17.67px;background:#92d050;"></div>
<div class="bar" style="left:852.33px;top:433.64px;width:36.54px;height:17.67px;background:#92d050;"></div>
<div class="bar" style="left:907.14px;top:451.31px;width:18.27px;height:17.67px;background:#92d050;"></div>
</div></div>
<div class="footer">Smartsheet Inc. ©2025</div>
<div class="frame"></div>
</body></html>
